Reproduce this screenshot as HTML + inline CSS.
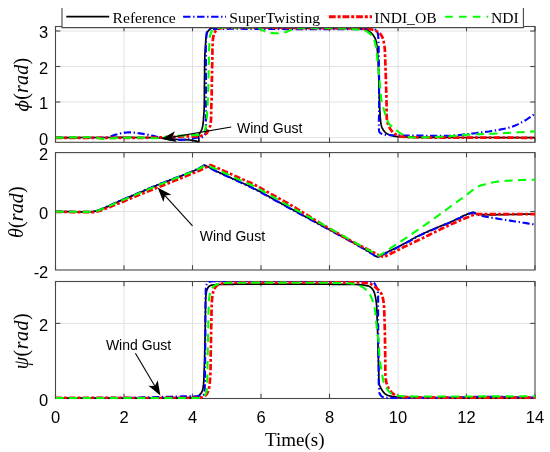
<!DOCTYPE html>
<html><head><meta charset="utf-8"><title>plot</title><style>
html,body{margin:0;padding:0;background:#fff;}
svg{display:block;}
.tk{font-family:"Liberation Sans",Arial,sans-serif;font-size:16.5px;fill:#000;}
.an{font-family:"Liberation Sans",Arial,sans-serif;font-size:14px;fill:#000;}
.lg{font-family:"Liberation Serif","Times New Roman",serif;font-size:15.6px;fill:#000;}
.xl{font-family:"Liberation Serif","Times New Roman",serif;font-size:19px;fill:#000;}
.yl{font-family:"Liberation Serif","Times New Roman",serif;font-size:20px;fill:#000;}
.yl .gd{font-family:"DejaVu Serif",serif;font-style:italic;font-size:17px;}
.yl .gi{font-style:italic;}
.yl .it{font-style:italic;}
.yl .up{font-style:normal;}
</style></head><body>
<svg width="550" height="452" viewBox="0 0 550 452">
<defs>
<clipPath id="c1"><rect x="55.5" y="25.9" width="479.5" height="116.8"/></clipPath>
<clipPath id="c2"><rect x="55.5" y="152.0" width="479.5" height="118.4"/></clipPath>
<clipPath id="c3"><rect x="55.5" y="280.9" width="479.5" height="118.0"/></clipPath>
</defs>
<rect width="550" height="452" fill="#fff"/>
<line x1="124.0" y1="26.5" x2="124.0" y2="142.3" stroke="#e2e2e2" stroke-width="1"/>
<line x1="192.5" y1="26.5" x2="192.5" y2="142.3" stroke="#e2e2e2" stroke-width="1"/>
<line x1="261.0" y1="26.5" x2="261.0" y2="142.3" stroke="#e2e2e2" stroke-width="1"/>
<line x1="329.5" y1="26.5" x2="329.5" y2="142.3" stroke="#e2e2e2" stroke-width="1"/>
<line x1="398.0" y1="26.5" x2="398.0" y2="142.3" stroke="#e2e2e2" stroke-width="1"/>
<line x1="466.5" y1="26.5" x2="466.5" y2="142.3" stroke="#e2e2e2" stroke-width="1"/>
<line x1="55.5" y1="137.6" x2="535.0" y2="137.6" stroke="#e2e2e2" stroke-width="1"/>
<line x1="55.5" y1="102.0" x2="535.0" y2="102.0" stroke="#e2e2e2" stroke-width="1"/>
<line x1="55.5" y1="66.5" x2="535.0" y2="66.5" stroke="#e2e2e2" stroke-width="1"/>
<line x1="55.5" y1="31.0" x2="535.0" y2="31.0" stroke="#e2e2e2" stroke-width="1"/>

<line x1="124.0" y1="152.6" x2="124.0" y2="270.0" stroke="#e2e2e2" stroke-width="1"/>
<line x1="192.5" y1="152.6" x2="192.5" y2="270.0" stroke="#e2e2e2" stroke-width="1"/>
<line x1="261.0" y1="152.6" x2="261.0" y2="270.0" stroke="#e2e2e2" stroke-width="1"/>
<line x1="329.5" y1="152.6" x2="329.5" y2="270.0" stroke="#e2e2e2" stroke-width="1"/>
<line x1="398.0" y1="152.6" x2="398.0" y2="270.0" stroke="#e2e2e2" stroke-width="1"/>
<line x1="466.5" y1="152.6" x2="466.5" y2="270.0" stroke="#e2e2e2" stroke-width="1"/>
<line x1="55.5" y1="211.5" x2="535.0" y2="211.5" stroke="#e2e2e2" stroke-width="1"/>

<line x1="124.0" y1="281.5" x2="124.0" y2="398.5" stroke="#e2e2e2" stroke-width="1"/>
<line x1="192.5" y1="281.5" x2="192.5" y2="398.5" stroke="#e2e2e2" stroke-width="1"/>
<line x1="261.0" y1="281.5" x2="261.0" y2="398.5" stroke="#e2e2e2" stroke-width="1"/>
<line x1="329.5" y1="281.5" x2="329.5" y2="398.5" stroke="#e2e2e2" stroke-width="1"/>
<line x1="398.0" y1="281.5" x2="398.0" y2="398.5" stroke="#e2e2e2" stroke-width="1"/>
<line x1="466.5" y1="281.5" x2="466.5" y2="398.5" stroke="#e2e2e2" stroke-width="1"/>
<line x1="55.5" y1="323.4" x2="535.0" y2="323.4" stroke="#e2e2e2" stroke-width="1"/>

<rect x="55.5" y="26.5" width="479.5" height="115.8" fill="none" stroke="#484848" stroke-width="1.1"/>
<line x1="55.5" y1="142.3" x2="55.5" y2="137.5" stroke="#484848" stroke-width="1.1"/>
<line x1="55.5" y1="26.5" x2="55.5" y2="31.3" stroke="#484848" stroke-width="1.1"/>
<line x1="124.0" y1="142.3" x2="124.0" y2="137.5" stroke="#484848" stroke-width="1.1"/>
<line x1="124.0" y1="26.5" x2="124.0" y2="31.3" stroke="#484848" stroke-width="1.1"/>
<line x1="192.5" y1="142.3" x2="192.5" y2="137.5" stroke="#484848" stroke-width="1.1"/>
<line x1="192.5" y1="26.5" x2="192.5" y2="31.3" stroke="#484848" stroke-width="1.1"/>
<line x1="261.0" y1="142.3" x2="261.0" y2="137.5" stroke="#484848" stroke-width="1.1"/>
<line x1="261.0" y1="26.5" x2="261.0" y2="31.3" stroke="#484848" stroke-width="1.1"/>
<line x1="329.5" y1="142.3" x2="329.5" y2="137.5" stroke="#484848" stroke-width="1.1"/>
<line x1="329.5" y1="26.5" x2="329.5" y2="31.3" stroke="#484848" stroke-width="1.1"/>
<line x1="398.0" y1="142.3" x2="398.0" y2="137.5" stroke="#484848" stroke-width="1.1"/>
<line x1="398.0" y1="26.5" x2="398.0" y2="31.3" stroke="#484848" stroke-width="1.1"/>
<line x1="466.5" y1="142.3" x2="466.5" y2="137.5" stroke="#484848" stroke-width="1.1"/>
<line x1="466.5" y1="26.5" x2="466.5" y2="31.3" stroke="#484848" stroke-width="1.1"/>
<line x1="535.0" y1="142.3" x2="535.0" y2="137.5" stroke="#484848" stroke-width="1.1"/>
<line x1="535.0" y1="26.5" x2="535.0" y2="31.3" stroke="#484848" stroke-width="1.1"/>
<line x1="55.5" y1="137.6" x2="60.3" y2="137.6" stroke="#484848" stroke-width="1.1"/>
<line x1="535.0" y1="137.6" x2="530.2" y2="137.6" stroke="#484848" stroke-width="1.1"/>
<text x="48.3" y="144.9" class="tk" text-anchor="end">0</text>
<line x1="55.5" y1="102.0" x2="60.3" y2="102.0" stroke="#484848" stroke-width="1.1"/>
<line x1="535.0" y1="102.0" x2="530.2" y2="102.0" stroke="#484848" stroke-width="1.1"/>
<text x="48.3" y="109.3" class="tk" text-anchor="end">1</text>
<line x1="55.5" y1="66.5" x2="60.3" y2="66.5" stroke="#484848" stroke-width="1.1"/>
<line x1="535.0" y1="66.5" x2="530.2" y2="66.5" stroke="#484848" stroke-width="1.1"/>
<text x="48.3" y="73.8" class="tk" text-anchor="end">2</text>
<line x1="55.5" y1="31.0" x2="60.3" y2="31.0" stroke="#484848" stroke-width="1.1"/>
<line x1="535.0" y1="31.0" x2="530.2" y2="31.0" stroke="#484848" stroke-width="1.1"/>
<text x="48.3" y="38.2" class="tk" text-anchor="end">3</text>

<rect x="55.5" y="152.6" width="479.5" height="117.4" fill="none" stroke="#484848" stroke-width="1.1"/>
<line x1="55.5" y1="270.0" x2="55.5" y2="265.2" stroke="#484848" stroke-width="1.1"/>
<line x1="55.5" y1="152.6" x2="55.5" y2="157.4" stroke="#484848" stroke-width="1.1"/>
<line x1="124.0" y1="270.0" x2="124.0" y2="265.2" stroke="#484848" stroke-width="1.1"/>
<line x1="124.0" y1="152.6" x2="124.0" y2="157.4" stroke="#484848" stroke-width="1.1"/>
<line x1="192.5" y1="270.0" x2="192.5" y2="265.2" stroke="#484848" stroke-width="1.1"/>
<line x1="192.5" y1="152.6" x2="192.5" y2="157.4" stroke="#484848" stroke-width="1.1"/>
<line x1="261.0" y1="270.0" x2="261.0" y2="265.2" stroke="#484848" stroke-width="1.1"/>
<line x1="261.0" y1="152.6" x2="261.0" y2="157.4" stroke="#484848" stroke-width="1.1"/>
<line x1="329.5" y1="270.0" x2="329.5" y2="265.2" stroke="#484848" stroke-width="1.1"/>
<line x1="329.5" y1="152.6" x2="329.5" y2="157.4" stroke="#484848" stroke-width="1.1"/>
<line x1="398.0" y1="270.0" x2="398.0" y2="265.2" stroke="#484848" stroke-width="1.1"/>
<line x1="398.0" y1="152.6" x2="398.0" y2="157.4" stroke="#484848" stroke-width="1.1"/>
<line x1="466.5" y1="270.0" x2="466.5" y2="265.2" stroke="#484848" stroke-width="1.1"/>
<line x1="466.5" y1="152.6" x2="466.5" y2="157.4" stroke="#484848" stroke-width="1.1"/>
<line x1="535.0" y1="270.0" x2="535.0" y2="265.2" stroke="#484848" stroke-width="1.1"/>
<line x1="535.0" y1="152.6" x2="535.0" y2="157.4" stroke="#484848" stroke-width="1.1"/>
<text x="48.3" y="277.5" class="tk" text-anchor="end">-2</text>
<line x1="55.5" y1="211.5" x2="60.3" y2="211.5" stroke="#484848" stroke-width="1.1"/>
<line x1="535.0" y1="211.5" x2="530.2" y2="211.5" stroke="#484848" stroke-width="1.1"/>
<text x="48.3" y="218.8" class="tk" text-anchor="end">0</text>
<text x="48.3" y="160.1" class="tk" text-anchor="end">2</text>

<rect x="55.5" y="281.5" width="479.5" height="117.0" fill="none" stroke="#484848" stroke-width="1.1"/>
<line x1="55.5" y1="398.5" x2="55.5" y2="393.7" stroke="#484848" stroke-width="1.1"/>
<line x1="55.5" y1="281.5" x2="55.5" y2="286.3" stroke="#484848" stroke-width="1.1"/>
<line x1="124.0" y1="398.5" x2="124.0" y2="393.7" stroke="#484848" stroke-width="1.1"/>
<line x1="124.0" y1="281.5" x2="124.0" y2="286.3" stroke="#484848" stroke-width="1.1"/>
<line x1="192.5" y1="398.5" x2="192.5" y2="393.7" stroke="#484848" stroke-width="1.1"/>
<line x1="192.5" y1="281.5" x2="192.5" y2="286.3" stroke="#484848" stroke-width="1.1"/>
<line x1="261.0" y1="398.5" x2="261.0" y2="393.7" stroke="#484848" stroke-width="1.1"/>
<line x1="261.0" y1="281.5" x2="261.0" y2="286.3" stroke="#484848" stroke-width="1.1"/>
<line x1="329.5" y1="398.5" x2="329.5" y2="393.7" stroke="#484848" stroke-width="1.1"/>
<line x1="329.5" y1="281.5" x2="329.5" y2="286.3" stroke="#484848" stroke-width="1.1"/>
<line x1="398.0" y1="398.5" x2="398.0" y2="393.7" stroke="#484848" stroke-width="1.1"/>
<line x1="398.0" y1="281.5" x2="398.0" y2="286.3" stroke="#484848" stroke-width="1.1"/>
<line x1="466.5" y1="398.5" x2="466.5" y2="393.7" stroke="#484848" stroke-width="1.1"/>
<line x1="466.5" y1="281.5" x2="466.5" y2="286.3" stroke="#484848" stroke-width="1.1"/>
<line x1="535.0" y1="398.5" x2="535.0" y2="393.7" stroke="#484848" stroke-width="1.1"/>
<line x1="535.0" y1="281.5" x2="535.0" y2="286.3" stroke="#484848" stroke-width="1.1"/>
<text x="48.3" y="405.8" class="tk" text-anchor="end">0</text>
<line x1="55.5" y1="323.4" x2="60.3" y2="323.4" stroke="#484848" stroke-width="1.1"/>
<line x1="535.0" y1="323.4" x2="530.2" y2="323.4" stroke="#484848" stroke-width="1.1"/>
<text x="48.3" y="330.7" class="tk" text-anchor="end">2</text>

<path d="M55.5 137.6 L57.0 137.6 L58.5 137.6 L60.0 137.6 L61.6 137.6 L63.1 137.6 L64.7 137.6 L66.3 137.6 L67.9 137.6 L69.5 137.6 L71.1 137.6 L72.7 137.6 L74.4 137.6 L76.0 137.6 L77.7 137.6 L79.4 137.6 L81.0 137.5 L82.7 137.5 L84.4 137.5 L86.1 137.5 L87.8 137.5 L89.4 137.5 L91.1 137.5 L92.8 137.5 L94.5 137.5 L96.2 137.5 L97.9 137.5 L99.6 137.5 L101.2 137.5 L102.9 137.5 L104.5 137.5 L106.2 137.5 L107.8 137.5 L109.5 137.5 L111.1 137.5 L112.7 137.5 L114.3 137.5 L115.9 137.4 L117.4 137.4 L119.0 137.4 L120.5 137.4 L122.0 137.4 L123.5 137.4 L125.0 137.4 L126.5 137.4 L127.9 137.4 L129.3 137.4 L130.7 137.4 L132.1 137.4 L133.4 137.5 L134.8 137.5 L136.0 137.5 L137.3 137.5 L138.6 137.5 L139.8 137.5 L140.9 137.5 L142.1 137.5 L143.2 137.5 L144.3 137.5 L145.3 137.5 L146.3 137.5 L147.3 137.6 L148.2 137.6 L149.1 137.6 L150.0 137.6 L151.9 137.6 L153.5 137.7 L155.1 137.7 L156.5 137.8 L157.8 137.8 L159.1 137.8 L160.3 137.9 L161.4 138.0 L162.6 138.0 L163.8 138.1 L165.0 138.2 L166.5 138.3 L167.9 138.5 L169.2 138.6 L170.6 138.8 L171.9 139.0 L173.3 139.1 L174.6 139.3 L176.0 139.4 L177.3 139.5 L178.7 139.5 L180.1 139.6 L181.5 139.6 L182.9 139.6 L184.2 139.6 L185.5 139.7 L186.8 139.7 L188.0 139.8 L189.6 140.0 L191.0 140.1 L192.5 140.3 L193.8 140.6 L195.0 140.8 L196.3 141.1 L197.5 141.5 L198.7 141.9" fill="none" stroke="#000" stroke-width="1.7" clip-path="url(#c1)"/>
<path d="M198.9 141.9 L198.9 140.4 L198.8 138.8 L198.7 137.2 L198.7 135.8 L198.9 134.7 L199.4 133.7 L200.1 132.8 L200.6 131.9 L201.1 130.9 L201.6 129.8 L202.0 128.7 L202.3 127.6 L202.6 126.5 L202.8 125.4 L203.0 124.0 L203.1 122.9 L203.3 121.8 L203.4 120.5 L203.5 119.2 L203.6 117.8 L203.7 116.3 L203.8 114.8 L203.9 113.3 L204.0 111.6 L204.1 110.0 L204.2 108.8 L204.2 107.6 L204.2 106.3 L204.3 104.9 L204.3 103.5 L204.3 102.1 L204.3 100.7 L204.4 99.2 L204.4 97.7 L204.4 96.2 L204.4 94.7 L204.4 93.1 L204.4 91.6 L204.4 90.1 L204.4 88.6 L204.4 87.1 L204.4 85.6 L204.5 84.1 L204.5 82.7 L204.5 81.3 L204.5 80.0 L204.5 78.4 L204.5 76.9 L204.6 75.3 L204.6 73.7 L204.6 72.2 L204.6 70.7 L204.6 69.2 L204.6 67.7 L204.6 66.2 L204.7 64.8 L204.7 63.4 L204.7 62.0 L204.7 60.6 L204.8 59.3 L204.8 58.0 L204.9 56.4 L204.9 54.8 L205.0 53.4 L205.1 51.9 L205.1 50.5 L205.2 49.1 L205.3 47.7 L205.4 46.4 L205.5 45.0 L205.6 43.5 L205.7 41.9 L205.8 40.4 L205.9 38.9 L206.1 37.4 L206.3 36.2 L206.5 35.0 L206.9 33.6 L207.4 32.4 L208.0 31.3 L208.7 30.3 L209.6 29.5 L210.5 28.8 L211.4 28.3 L212.5 28.0 L214.0 27.8 L214.7 27.7 L215.5 27.6 L216.4 27.6 L217.4 27.5 L218.6 27.5 L219.8 27.4 L221.0 27.4 L222.4 27.3 L223.8 27.3 L225.3 27.3 L226.9 27.3 L228.4 27.3 L230.1 27.3 L231.8 27.3 L233.5 27.3 L235.2 27.3 L237.0 27.3 L238.7 27.3 L240.5 27.3 L242.3 27.3 L244.0 27.3 L245.8 27.4 L247.5 27.4 L249.2 27.4 L250.9 27.4 L252.6 27.4 L254.2 27.5 L255.7 27.5 L257.2 27.5 L258.6 27.5 L260.0 27.5 L261.6 27.5 L263.1 27.5 L264.5 27.5 L265.9 27.6 L267.3 27.6 L268.7 27.6 L270.0 27.6 L271.4 27.6 L272.7 27.7 L274.0 27.7 L275.3 27.7 L276.7 27.8 L278.0 27.8 L279.4 27.8 L280.8 27.8 L282.2 27.9 L283.7 27.9 L285.2 27.9 L286.7 28.0 L288.3 28.0 L290.0 28.0 L291.2 28.0 L292.5 28.0 L293.8 28.0 L295.2 28.1 L296.7 28.1 L298.1 28.1 L299.6 28.1 L301.2 28.1 L302.8 28.1 L304.4 28.1 L306.0 28.1 L307.7 28.1 L309.4 28.1 L311.1 28.1 L312.8 28.1 L314.6 28.1 L316.3 28.1 L318.1 28.1 L319.8 28.2 L321.6 28.2 L323.3 28.2 L325.1 28.2 L326.8 28.2 L328.5 28.2 L330.2 28.2 L331.9 28.2 L333.5 28.2 L335.2 28.2 L336.8 28.2 L338.3 28.2 L339.9 28.2 L341.3 28.3 L342.8 28.3 L344.2 28.3 L345.5 28.3 L346.8 28.3 L348.1 28.3 L349.3 28.4 L350.4 28.4 L351.5 28.4 L352.5 28.4 L353.4 28.4 L354.2 28.5 L355.0 28.5 L356.9 28.6 L358.4 28.6 L359.6 28.7 L360.8 28.8 L362.0 29.0 L363.3 29.2 L364.6 29.4 L365.9 29.7 L367.1 30.2 L368.1 30.8 L369.2 31.4 L370.2 32.2 L371.1 33.0 L372.0 33.8 L372.9 34.8 L373.6 35.8 L374.3 36.9 L374.9 38.0 L375.5 39.3 L375.9 40.8 L376.3 42.2 L376.6 43.7 L376.8 45.1 L377.0 46.5 L377.2 47.9 L377.3 49.4 L377.4 50.6 L377.5 51.9 L377.6 53.2 L377.7 54.5 L377.8 56.0 L377.9 57.2 L377.9 58.4 L378.0 59.7 L378.1 61.1 L378.2 62.5 L378.2 64.0 L378.3 65.5 L378.4 67.0 L378.4 68.5 L378.5 70.0 L378.6 71.3 L378.6 72.7 L378.6 74.1 L378.7 75.5 L378.7 76.9 L378.8 78.3 L378.8 79.8 L378.8 81.2 L378.9 82.7 L378.9 84.2 L379.0 85.7 L379.0 87.1 L379.1 88.6 L379.1 90.0 L379.1 91.4 L379.2 92.9 L379.2 94.4 L379.3 95.9 L379.3 97.4 L379.4 98.9 L379.4 100.4 L379.5 101.9 L379.5 103.4 L379.6 104.8 L379.6 106.2 L379.7 107.5 L379.7 108.8 L379.8 110.0 L379.9 111.6 L380.0 113.2 L380.1 114.6 L380.1 116.0 L380.2 117.4 L380.4 118.7 L380.5 120.0 L380.7 121.4 L380.8 122.8 L381.0 124.1 L381.3 125.4 L381.6 126.5 L382.1 127.8 L382.7 128.9 L383.3 130.0 L384.0 130.9 L384.7 131.8 L385.5 132.6 L386.3 133.2 L387.1 133.8 L388.0 134.3 L389.2 134.8 L390.6 135.2 L392.0 135.6 L393.3 136.0 L394.7 136.3 L396.0 136.5 L397.2 136.6 L398.4 136.7 L400.0 136.8 L400.9 136.8 L401.9 136.9 L403.0 136.9 L404.1 137.0 L405.3 137.0 L406.6 137.0 L408.0 137.1 L409.5 137.1 L411.0 137.1 L412.6 137.2 L414.3 137.2 L416.1 137.2 L418.0 137.3 L420.0 137.3 L420.9 137.3 L421.8 137.3 L422.8 137.3 L423.7 137.3 L424.7 137.4 L425.8 137.4 L426.8 137.4 L427.9 137.4 L429.0 137.4 L430.2 137.4 L431.3 137.4 L432.5 137.4 L433.7 137.4 L435.0 137.4 L436.2 137.4 L437.5 137.4 L438.8 137.5 L440.2 137.5 L441.5 137.5 L442.9 137.5 L444.3 137.5 L445.7 137.5 L447.1 137.5 L448.5 137.5 L450.0 137.5 L451.5 137.5 L453.0 137.5 L454.5 137.5 L456.0 137.5 L457.5 137.5 L459.1 137.5 L460.6 137.5 L462.2 137.5 L463.8 137.5 L465.4 137.5 L467.0 137.5 L468.6 137.5 L470.2 137.5 L471.8 137.5 L473.5 137.5 L475.1 137.5 L476.8 137.5 L478.4 137.5 L480.1 137.5 L481.8 137.5 L483.4 137.5 L485.1 137.5 L486.8 137.5 L488.5 137.5 L490.2 137.5 L491.8 137.5 L493.5 137.5 L495.2 137.5 L496.9 137.5 L498.6 137.6 L500.3 137.6 L502.0 137.6 L503.6 137.6 L505.3 137.6 L507.0 137.6 L508.6 137.6 L510.3 137.6 L511.9 137.6 L513.6 137.6 L515.2 137.6 L516.9 137.6 L518.5 137.6 L520.1 137.6 L521.7 137.6 L523.3 137.6 L524.9 137.6 L526.4 137.6 L528.0 137.6 L529.6 137.6 L531.1 137.6 L532.6 137.6 L534.1 137.6 L535.6 137.6" fill="none" stroke="#000" stroke-width="1.7" clip-path="url(#c1)"/>
<path d="M55.5 137.6 L57.0 137.6 L58.5 137.6 L60.0 137.6 L61.6 137.6 L63.3 137.6 L64.9 137.7 L66.6 137.7 L68.2 137.7 L69.9 137.7 L71.6 137.7 L73.3 137.8 L75.0 137.8 L76.7 137.8 L78.4 137.8 L80.1 137.9 L81.8 137.9 L83.5 137.9 L85.1 137.9 L86.7 137.9 L88.3 137.9 L89.8 137.9 L91.3 137.9 L92.8 137.9 L94.2 137.9 L95.6 137.9 L96.9 137.9 L98.1 137.9 L99.3 137.9 L100.5 137.9 L101.5 137.8 L102.5 137.8 L103.4 137.7 L104.3 137.7 L105.0 137.6 L106.6 137.4 L107.8 137.2 L108.8 136.9 L110.0 136.6 L111.2 136.2 L112.5 135.8 L113.8 135.3 L115.2 134.8 L116.6 134.4 L118.0 134.0 L119.4 133.7 L120.8 133.4 L122.3 133.1 L123.8 132.9 L125.3 132.6 L126.8 132.5 L128.2 132.4 L129.7 132.4 L131.1 132.4 L132.5 132.5 L134.0 132.6 L135.4 132.8 L137.0 133.0 L138.3 133.2 L139.8 133.4 L141.2 133.6 L142.7 133.8 L144.2 134.1 L145.7 134.4 L147.2 134.7 L148.6 134.9 L150.0 135.2 L151.5 135.5 L153.0 135.8 L154.4 136.1 L155.8 136.5 L157.2 136.8 L158.6 137.1 L160.0 137.4 L161.4 137.7 L162.8 138.0 L164.2 138.3 L165.6 138.7 L167.1 138.9 L168.5 139.2 L170.0 139.4 L171.3 139.5 L172.6 139.7 L174.0 139.8 L175.4 139.8 L176.8 139.9 L178.1 139.9 L179.5 139.9 L180.8 139.9 L182.0 139.9 L183.4 139.8 L184.8 139.7 L186.1 139.6 L187.4 139.4 L188.7 139.2 L190.0 139.0 L191.5 138.7 L192.9 138.4 L194.4 138.1 L195.7 137.9 L197.0 137.7 L198.4 137.7 L199.8 137.7 L201.0 137.6 L202.0 137.3 L203.0 136.9 L203.8 136.3 L204.5 135.5 L205.0 134.6 L205.4 133.5 L205.6 132.3 L205.7 131.1 L205.8 129.6 L205.8 128.0 L205.8 127.0 L205.9 125.8 L205.9 124.6 L205.9 123.4 L205.9 122.0 L205.9 120.6 L205.9 119.2 L205.9 117.7 L205.9 116.2 L205.9 114.7 L205.9 113.1 L205.9 111.6 L205.9 110.0 L205.9 108.7 L205.9 107.4 L205.9 106.1 L205.9 104.7 L205.9 103.3 L205.9 101.8 L205.9 100.4 L206.0 98.9 L206.0 97.4 L206.0 95.9 L206.0 94.4 L206.0 92.9 L206.0 91.4 L206.0 89.9 L206.0 88.5 L206.0 87.0 L206.0 85.5 L206.0 84.1 L206.0 82.7 L206.0 81.3 L206.0 80.0 L206.0 78.4 L206.0 76.9 L206.0 75.3 L206.0 73.7 L206.0 72.2 L206.0 70.7 L206.0 69.2 L205.9 67.7 L205.9 66.2 L205.9 64.8 L205.9 63.4 L205.9 62.0 L205.9 60.6 L205.9 59.3 L205.9 58.0 L205.9 56.4 L205.9 54.8 L205.9 53.3 L205.9 51.9 L205.9 50.4 L205.8 49.0 L205.9 47.7 L205.9 46.3 L205.9 45.0 L205.9 43.6 L206.0 42.2 L206.0 40.9 L206.1 39.6 L206.2 38.3 L206.3 37.1 L206.4 36.0 L206.5 34.7 L206.6 33.5 L206.8 32.4 L207.2 31.5 L208.2 30.4 L209.5 29.6 L210.4 29.3 L211.3 29.2 L212.4 29.2 L214.0 29.1 L214.6 29.1 L215.2 29.0 L215.9 29.0 L216.7 29.0 L217.6 29.0 L218.4 29.0 L219.4 28.9 L220.4 28.9 L221.5 28.9 L222.6 28.9 L223.7 28.9 L224.9 28.9 L226.2 28.9 L227.5 28.9 L228.8 28.8 L230.2 28.8 L231.6 28.8 L233.0 28.8 L234.5 28.8 L236.0 28.8 L237.6 28.8 L239.1 28.8 L240.7 28.8 L242.4 28.8 L244.0 28.9 L245.7 28.9 L247.4 28.9 L249.1 28.9 L250.8 28.9 L252.5 28.9 L254.3 28.9 L256.1 28.9 L257.8 28.9 L259.6 28.9 L261.4 28.9 L263.2 28.9 L265.0 29.0 L266.8 29.0 L268.6 29.0 L270.4 29.0 L272.2 29.0 L273.9 29.0 L275.7 29.0 L277.5 29.0 L279.2 29.0 L280.9 29.0 L282.7 29.0 L284.4 29.1 L286.0 29.1 L287.7 29.1 L289.3 29.1 L291.0 29.1 L292.5 29.1 L294.1 29.1 L295.6 29.1 L297.1 29.1 L298.6 29.1 L300.0 29.1 L301.6 29.1 L303.2 29.1 L304.8 29.1 L306.5 29.1 L308.2 29.1 L309.9 29.1 L311.6 29.1 L313.4 29.1 L315.1 29.1 L316.9 29.1 L318.7 29.1 L320.5 29.1 L322.3 29.1 L324.1 29.1 L325.9 29.1 L327.6 29.1 L329.4 29.1 L331.2 29.1 L333.0 29.1 L334.8 29.1 L336.5 29.1 L338.3 29.1 L340.0 29.1 L341.7 29.1 L343.3 29.1 L345.0 29.1 L346.6 29.1 L348.2 29.1 L349.8 29.1 L351.3 29.1 L352.8 29.1 L354.3 29.1 L355.7 29.1 L357.1 29.1 L358.4 29.1 L359.7 29.1 L360.9 29.1 L362.1 29.1 L363.2 29.1 L364.3 29.1 L365.3 29.1 L366.2 29.1 L367.1 29.1 L368.0 29.1 L368.7 29.1 L369.4 29.1 L370.0 29.1 L371.7 29.1 L372.9 29.1 L374.0 29.2 L375.4 29.7 L376.6 30.5 L377.2 31.6 L377.7 33.0 L378.0 34.5 L378.2 35.7 L378.3 37.1 L378.4 38.5 L378.4 40.0 L378.5 41.6 L378.5 42.8 L378.6 44.0 L378.6 45.3 L378.6 46.6 L378.7 48.0 L378.7 49.5 L378.7 50.9 L378.7 52.4 L378.8 53.9 L378.8 55.5 L378.8 57.0 L378.8 58.3 L378.8 59.6 L378.9 61.0 L378.9 62.4 L378.9 63.7 L378.9 65.2 L379.0 66.6 L379.0 68.0 L379.0 69.5 L379.0 70.9 L379.0 72.4 L379.0 73.9 L379.1 75.4 L379.1 76.9 L379.1 78.5 L379.1 80.0 L379.1 81.3 L379.1 82.7 L379.1 84.1 L379.1 85.5 L379.1 87.0 L379.1 88.4 L379.1 89.9 L379.1 91.4 L379.1 92.9 L379.1 94.3 L379.1 95.8 L379.1 97.3 L379.1 98.8 L379.1 100.2 L379.1 101.7 L379.1 103.1 L379.1 104.6 L379.1 106.0 L379.1 107.3 L379.1 108.7 L379.1 110.0 L379.1 111.6 L379.1 113.2 L379.0 114.8 L379.0 116.5 L378.9 118.1 L378.9 119.8 L378.8 121.4 L378.8 123.0 L378.8 124.4 L378.8 125.9 L378.8 127.2 L378.8 128.3 L378.9 129.4 L379.0 130.3 L379.1 131.0 L379.4 132.1 L380.0 132.8 L380.9 133.4 L382.1 134.0 L383.5 134.4 L384.6 134.6 L385.7 134.8 L387.0 134.9 L388.4 135.0 L390.0 135.1 L391.0 135.2 L392.0 135.2 L393.1 135.2 L394.3 135.3 L395.6 135.3 L396.9 135.4 L398.3 135.4 L399.8 135.4 L401.3 135.4 L402.8 135.5 L404.3 135.5 L405.9 135.5 L407.5 135.5 L409.1 135.5 L410.7 135.5 L412.3 135.5 L413.9 135.6 L415.5 135.6 L417.0 135.6 L418.5 135.6 L420.0 135.6 L421.4 135.6 L422.9 135.6 L424.4 135.6 L425.9 135.7 L427.4 135.7 L429.0 135.7 L430.5 135.7 L432.1 135.7 L433.6 135.8 L435.2 135.8 L436.7 135.8 L438.2 135.8 L439.7 135.8 L441.2 135.8 L442.7 135.8 L444.1 135.8 L445.5 135.8 L446.9 135.8 L448.2 135.7 L449.5 135.7 L450.8 135.7 L452.0 135.6 L453.6 135.5 L455.1 135.4 L456.5 135.3 L457.9 135.2 L459.2 135.0 L460.5 134.9 L461.8 134.7 L463.1 134.6 L464.4 134.4 L465.7 134.2 L467.0 134.1 L468.4 134.0 L469.7 133.8 L471.1 133.7 L472.4 133.5 L473.7 133.4 L475.1 133.2 L476.4 133.1 L477.8 132.9 L479.2 132.8 L480.6 132.6 L482.0 132.4 L483.3 132.2 L484.7 132.0 L486.1 131.8 L487.5 131.7 L488.9 131.5 L490.3 131.2 L491.8 131.0 L493.2 130.8 L494.6 130.6 L496.0 130.4 L497.3 130.1 L498.7 129.9 L500.0 129.6 L501.5 129.3 L503.0 129.0 L504.4 128.7 L505.8 128.4 L507.3 128.0 L508.6 127.7 L510.0 127.3 L511.4 126.9 L512.7 126.5 L514.0 126.0 L515.3 125.5 L516.6 124.9 L517.8 124.4 L519.0 123.8 L520.3 123.2 L521.4 122.5 L522.6 121.9 L523.8 121.2 L525.0 120.5 L526.2 119.8 L527.4 119.0 L528.6 118.2 L529.8 117.4 L530.9 116.6 L532.1 115.8 L533.3 114.9 L534.4 114.1 L535.6 113.3" fill="none" stroke="#0000ff" stroke-width="2.1" stroke-dasharray="7.2 2.6 1.4 2.6" clip-path="url(#c1)"/>
<path d="M55.5 137.8 L57.0 137.8 L58.5 137.8 L60.0 137.8 L61.5 137.8 L63.1 137.8 L64.6 137.8 L66.2 137.8 L67.8 137.8 L69.4 137.8 L71.0 137.8 L72.6 137.8 L74.2 137.8 L75.8 137.8 L77.5 137.8 L79.1 137.8 L80.8 137.8 L82.4 137.8 L84.1 137.8 L85.7 137.8 L87.4 137.8 L89.0 137.8 L90.7 137.8 L92.4 137.8 L94.0 137.8 L95.7 137.9 L97.3 137.9 L99.0 137.9 L100.6 137.9 L102.2 137.9 L103.9 137.9 L105.5 137.9 L107.1 137.9 L108.7 137.9 L110.3 137.9 L111.9 137.9 L113.5 137.9 L115.1 137.9 L116.6 137.9 L118.2 137.9 L119.7 137.9 L121.2 137.9 L122.7 137.9 L124.2 137.9 L125.6 137.9 L127.1 137.9 L128.5 137.9 L129.9 137.9 L131.3 137.9 L132.7 137.9 L134.0 137.9 L135.3 137.8 L136.6 137.8 L137.9 137.8 L139.1 137.8 L140.3 137.8 L141.5 137.8 L142.7 137.8 L143.8 137.8 L144.9 137.8 L146.0 137.8 L147.1 137.7 L148.1 137.7 L149.1 137.7 L150.0 137.7 L151.9 137.7 L153.6 137.6 L155.3 137.6 L156.8 137.5 L158.3 137.5 L159.7 137.4 L161.0 137.4 L162.3 137.3 L163.5 137.3 L164.8 137.2 L166.1 137.2 L167.3 137.1 L168.6 137.1 L170.0 137.0 L171.4 136.9 L172.9 136.9 L174.3 136.8 L175.7 136.8 L177.2 136.7 L178.6 136.7 L180.0 136.6 L181.4 136.5 L182.8 136.5 L184.1 136.4 L185.4 136.4 L186.7 136.3 L188.0 136.3 L189.5 136.3 L191.0 136.3 L192.5 136.3 L193.9 136.3 L195.4 136.3 L196.7 136.3 L197.9 136.3 L199.0 136.2 L200.0 136.1 L201.2 135.8 L202.1 135.4 L203.0 135.0 L204.2 134.5 L205.5 134.0 L206.6 133.3 L207.4 132.2 L207.9 130.9 L208.5 129.6 L209.0 128.7 L209.5 127.7 L209.9 126.7 L210.3 125.4 L210.5 124.4 L210.7 123.3 L210.8 122.1 L210.9 120.8 L211.0 119.4 L211.1 117.9 L211.1 116.3 L211.2 114.7 L211.2 113.1 L211.2 111.4 L211.3 109.8 L211.3 108.2 L211.3 106.6 L211.4 105.0 L211.4 103.6 L211.5 102.2 L211.5 100.7 L211.6 99.3 L211.6 97.8 L211.6 96.3 L211.7 94.8 L211.7 93.3 L211.7 91.8 L211.7 90.3 L211.8 88.8 L211.8 87.3 L211.8 85.8 L211.8 84.3 L211.8 82.9 L211.9 81.4 L211.9 80.0 L211.9 78.5 L212.0 77.0 L212.0 75.4 L212.0 73.9 L212.0 72.3 L212.1 70.8 L212.1 69.3 L212.1 67.8 L212.1 66.3 L212.2 64.9 L212.2 63.4 L212.2 62.0 L212.2 60.6 L212.3 59.3 L212.3 58.0 L212.3 56.4 L212.4 54.8 L212.4 53.3 L212.4 51.9 L212.4 50.4 L212.4 49.0 L212.5 47.7 L212.5 46.3 L212.6 45.0 L212.7 43.6 L212.7 42.2 L212.8 40.9 L212.9 39.6 L213.1 38.3 L213.2 37.1 L213.5 36.0 L213.9 34.7 L214.3 33.5 L214.8 32.4 L215.4 31.4 L216.0 30.5 L216.9 29.7 L217.9 29.1 L219.0 28.6 L220.0 28.3 L221.1 28.1 L222.4 27.9 L224.0 27.8 L224.8 27.7 L225.8 27.7 L226.8 27.6 L227.9 27.6 L229.1 27.6 L230.4 27.5 L231.8 27.5 L233.2 27.5 L234.7 27.5 L236.2 27.4 L237.7 27.4 L239.3 27.4 L241.0 27.4 L242.6 27.4 L244.3 27.4 L245.9 27.4 L247.6 27.4 L249.2 27.4 L250.9 27.5 L252.5 27.5 L254.1 27.5 L255.6 27.5 L257.1 27.5 L258.6 27.5 L260.0 27.5 L261.5 27.5 L262.9 27.5 L264.3 27.5 L265.7 27.6 L267.1 27.6 L268.4 27.6 L269.7 27.6 L271.1 27.6 L272.4 27.7 L273.7 27.7 L275.1 27.7 L276.4 27.8 L277.8 27.8 L279.2 27.8 L280.6 27.8 L282.1 27.9 L283.5 27.9 L285.1 27.9 L286.7 28.0 L288.3 28.0 L290.0 28.0 L291.2 28.0 L292.5 28.0 L293.8 28.0 L295.2 28.1 L296.6 28.1 L298.1 28.1 L299.6 28.1 L301.1 28.1 L302.7 28.1 L304.3 28.1 L306.0 28.1 L307.7 28.2 L309.4 28.2 L311.1 28.2 L312.8 28.2 L314.6 28.2 L316.4 28.2 L318.1 28.2 L319.9 28.2 L321.7 28.2 L323.5 28.2 L325.3 28.3 L327.1 28.3 L328.8 28.3 L330.6 28.3 L332.3 28.3 L334.1 28.3 L335.8 28.3 L337.5 28.3 L339.1 28.3 L340.7 28.4 L342.3 28.4 L343.9 28.4 L345.4 28.4 L346.8 28.4 L348.3 28.4 L349.6 28.4 L351.0 28.4 L352.2 28.5 L353.4 28.5 L354.6 28.5 L355.7 28.5 L356.7 28.5 L357.6 28.5 L358.5 28.6 L359.3 28.6 L360.0 28.6 L361.6 28.7 L362.9 28.7 L364.0 28.8 L365.0 28.8 L366.0 28.9 L367.2 28.9 L368.3 29.0 L369.4 29.0 L370.6 29.2 L372.0 29.5 L373.5 29.9 L375.0 30.4 L376.3 31.0 L377.4 31.6 L378.4 32.2 L379.4 33.0 L380.2 33.8 L381.0 34.7 L381.6 35.8 L382.2 36.9 L382.7 38.0 L383.2 39.3 L383.5 40.8 L383.8 42.2 L384.1 43.7 L384.3 45.1 L384.5 46.5 L384.7 48.0 L384.8 49.4 L384.9 50.6 L385.0 51.8 L385.0 53.0 L385.0 54.3 L385.1 55.7 L385.1 56.9 L385.2 58.2 L385.2 59.5 L385.3 60.9 L385.3 62.3 L385.4 63.8 L385.4 65.4 L385.5 66.9 L385.5 68.4 L385.6 70.0 L385.6 71.3 L385.7 72.7 L385.7 74.1 L385.8 75.6 L385.8 77.0 L385.9 78.5 L385.9 80.0 L386.0 81.5 L386.0 82.9 L386.0 84.4 L386.1 85.8 L386.1 87.3 L386.2 88.7 L386.2 90.0 L386.2 91.4 L386.3 92.9 L386.3 94.3 L386.4 95.6 L386.4 97.0 L386.4 98.4 L386.5 99.7 L386.5 101.0 L386.5 102.3 L386.6 103.7 L386.6 105.0 L386.6 106.4 L386.6 107.9 L386.6 109.3 L386.6 110.8 L386.6 112.2 L386.6 113.6 L386.6 115.0 L386.6 116.3 L386.7 117.5 L386.8 118.6 L387.0 120.2 L387.3 121.5 L387.6 122.8 L388.0 124.0 L388.4 125.3 L388.9 126.4 L389.4 127.5 L390.1 128.8 L391.0 130.0 L391.8 131.0 L392.8 132.1 L393.9 133.1 L395.0 134.0 L396.2 134.7 L397.4 135.3 L398.7 135.8 L400.0 136.2 L401.2 136.5 L402.5 136.7 L403.7 136.9 L405.0 137.0 L406.1 137.1 L407.1 137.2 L408.3 137.2 L410.0 137.3 L410.5 137.3 L411.1 137.3 L411.7 137.3 L412.4 137.4 L413.1 137.4 L413.8 137.4 L414.6 137.4 L415.4 137.4 L416.3 137.4 L417.2 137.4 L418.2 137.4 L419.1 137.5 L420.2 137.5 L421.2 137.5 L422.3 137.5 L423.5 137.5 L424.6 137.5 L425.8 137.5 L427.1 137.5 L428.3 137.5 L429.6 137.5 L430.9 137.6 L432.3 137.6 L433.7 137.6 L435.1 137.6 L436.5 137.6 L438.0 137.6 L439.4 137.6 L441.0 137.6 L442.5 137.6 L444.0 137.6 L445.6 137.6 L447.2 137.6 L448.8 137.6 L450.4 137.6 L452.1 137.6 L453.8 137.6 L455.4 137.6 L457.1 137.6 L458.9 137.6 L460.6 137.7 L462.3 137.7 L464.1 137.7 L465.8 137.7 L467.6 137.7 L469.4 137.7 L471.2 137.7 L473.0 137.7 L474.8 137.7 L476.6 137.7 L478.4 137.7 L480.2 137.7 L482.0 137.7 L483.9 137.7 L485.7 137.7 L487.5 137.7 L489.4 137.7 L491.2 137.7 L493.0 137.7 L494.8 137.7 L496.6 137.7 L498.5 137.7 L500.3 137.7 L502.1 137.7 L503.9 137.7 L505.7 137.7 L507.4 137.7 L509.2 137.7 L511.0 137.7 L512.7 137.7 L514.5 137.7 L516.2 137.7 L517.9 137.7 L519.6 137.8 L521.3 137.8 L523.0 137.8 L524.6 137.8 L526.2 137.8 L527.8 137.8 L529.4 137.8 L531.0 137.8 L532.6 137.8 L534.1 137.8 L535.6 137.8" fill="none" stroke="#ff0000" stroke-width="2.7" stroke-dasharray="6.4 2.2 2.8 2.2" clip-path="url(#c1)"/>
<path d="M55.5 137.6 L57.0 137.6 L58.5 137.6 L60.0 137.6 L61.6 137.6 L63.2 137.5 L64.8 137.5 L66.4 137.5 L68.0 137.5 L69.7 137.4 L71.3 137.4 L73.0 137.4 L74.6 137.4 L76.2 137.3 L77.8 137.3 L79.4 137.3 L81.0 137.3 L82.5 137.3 L84.0 137.3 L85.5 137.3 L86.9 137.3 L88.2 137.3 L89.5 137.3 L90.8 137.3 L92.0 137.4 L93.1 137.4 L94.1 137.5 L95.1 137.5 L96.0 137.6 L97.8 137.8 L99.2 138.2 L100.5 138.5 L101.7 138.7 L103.0 138.9 L104.4 138.9 L105.7 138.8 L107.1 138.7 L108.5 138.5 L110.0 138.4 L111.2 138.3 L112.4 138.3 L113.7 138.2 L115.0 138.1 L116.3 138.0 L117.7 138.0 L119.1 137.9 L120.5 137.8 L122.0 137.8 L123.3 137.8 L124.6 137.7 L126.0 137.7 L127.4 137.7 L128.9 137.6 L130.4 137.6 L131.8 137.6 L133.3 137.6 L134.7 137.6 L136.1 137.6 L137.5 137.6 L138.8 137.6 L140.0 137.6 L141.6 137.6 L143.1 137.7 L144.6 137.8 L146.0 137.9 L147.4 138.0 L148.7 138.0 L150.0 138.1 L151.3 138.2 L152.5 138.2 L153.6 138.3 L154.7 138.3 L156.0 138.3 L157.2 138.2 L158.4 138.0 L159.6 137.9 L160.9 137.6 L162.2 137.4 L163.6 137.2 L165.0 137.0 L166.2 136.9 L167.5 136.7 L168.9 136.6 L170.2 136.4 L171.7 136.3 L173.1 136.2 L174.5 136.0 L175.9 135.9 L177.3 135.8 L178.7 135.7 L180.0 135.6 L181.4 135.5 L182.8 135.5 L184.2 135.4 L185.6 135.4 L186.9 135.4 L188.2 135.3 L189.5 135.3 L190.8 135.3 L192.0 135.2 L193.5 135.1 L194.9 135.1 L196.4 135.0 L197.7 134.9 L198.9 134.8 L200.0 134.6 L201.2 134.3 L202.1 134.0 L203.0 133.5 L203.7 132.8 L204.3 132.0 L204.8 131.0 L205.2 129.9 L205.5 128.6 L205.7 127.1 L205.9 125.6 L206.1 124.0 L206.3 122.8 L206.4 121.6 L206.5 120.4 L206.7 119.1 L206.8 117.8 L206.9 116.4 L207.0 115.0 L207.1 113.5 L207.2 112.0 L207.3 110.7 L207.4 109.4 L207.4 108.1 L207.5 106.7 L207.6 105.3 L207.7 103.8 L207.7 102.4 L207.8 100.9 L207.9 99.4 L207.9 97.8 L208.0 96.3 L208.0 94.7 L208.1 93.2 L208.1 91.6 L208.2 90.0 L208.2 88.7 L208.3 87.3 L208.3 85.9 L208.4 84.4 L208.4 83.0 L208.4 81.5 L208.5 80.0 L208.5 78.4 L208.5 76.9 L208.6 75.4 L208.6 73.9 L208.6 72.4 L208.7 70.9 L208.7 69.4 L208.7 68.0 L208.8 66.5 L208.8 65.1 L208.8 63.8 L208.8 62.5 L208.9 61.2 L208.9 60.0 L208.9 58.4 L209.0 56.9 L209.0 55.5 L209.0 54.1 L209.0 52.7 L209.0 51.4 L209.1 50.1 L209.1 48.8 L209.2 47.5 L209.2 46.3 L209.3 45.0 L209.4 43.4 L209.5 41.9 L209.6 40.3 L209.8 38.8 L209.9 37.3 L210.1 35.9 L210.4 34.6 L210.7 33.5 L211.2 32.3 L211.7 31.2 L212.3 30.3 L213.0 29.5 L213.9 28.9 L214.9 28.5 L216.0 28.2 L217.0 28.0 L218.0 27.9 L219.1 27.8 L220.4 27.8 L222.0 27.7 L223.0 27.7 L224.1 27.6 L225.3 27.6 L226.7 27.6 L228.2 27.5 L229.7 27.5 L231.4 27.5 L233.1 27.4 L234.8 27.4 L236.6 27.4 L238.4 27.4 L240.3 27.3 L242.1 27.3 L243.8 27.3 L245.5 27.3 L247.2 27.4 L248.8 27.4 L250.3 27.4 L251.7 27.5 L253.0 27.5 L254.2 27.6 L255.2 27.6 L256.0 27.7 L257.6 27.9 L258.8 28.2 L260.0 28.6 L261.1 29.1 L262.2 29.8 L263.4 30.5 L264.7 31.2 L266.0 31.8 L267.3 32.2 L268.7 32.5 L270.1 32.8 L271.6 33.0 L273.1 33.1 L274.6 33.2 L276.0 33.3 L277.3 33.3 L278.7 33.2 L280.0 33.1 L281.3 33.0 L282.6 32.8 L283.8 32.6 L285.0 32.3 L286.3 31.9 L287.5 31.4 L288.7 30.9 L289.9 30.4 L291.0 30.0 L292.3 29.6 L293.6 29.2 L294.8 28.9 L296.0 28.6 L297.2 28.4 L298.3 28.3 L300.0 28.2 L300.7 28.2 L301.5 28.1 L302.5 28.1 L303.6 28.1 L304.7 28.1 L306.0 28.1 L307.3 28.1 L308.7 28.1 L310.2 28.1 L311.8 28.1 L313.4 28.1 L315.1 28.1 L316.8 28.1 L318.5 28.1 L320.3 28.1 L322.1 28.1 L323.9 28.1 L325.7 28.2 L327.5 28.2 L329.3 28.2 L331.1 28.2 L332.9 28.3 L334.7 28.3 L336.4 28.3 L338.1 28.4 L339.7 28.4 L341.2 28.5 L342.7 28.5 L344.2 28.5 L345.5 28.6 L346.8 28.6 L348.0 28.7 L349.0 28.7 L350.0 28.8 L351.9 28.9 L353.5 29.1 L354.9 29.2 L356.3 29.4 L357.5 29.5 L358.8 29.7 L360.0 29.9 L361.4 30.1 L362.7 30.3 L364.0 30.5 L365.2 30.8 L366.4 31.3 L367.5 31.9 L368.5 32.6 L369.5 33.4 L370.5 34.3 L371.3 35.2 L372.2 36.4 L373.0 37.6 L373.6 38.9 L374.2 40.2 L374.6 41.4 L375.0 42.7 L375.3 43.9 L375.6 45.1 L376.0 46.5 L376.3 47.9 L376.6 49.4 L376.7 50.7 L376.8 52.0 L376.9 53.5 L377.0 55.0 L377.1 56.2 L377.2 57.5 L377.3 58.8 L377.4 60.2 L377.6 61.6 L377.7 63.1 L377.9 64.5 L378.0 66.0 L378.1 67.3 L378.3 68.7 L378.4 70.0 L378.6 71.4 L378.7 72.7 L378.9 74.1 L379.0 75.6 L379.2 77.0 L379.3 78.5 L379.5 80.0 L379.6 81.3 L379.7 82.7 L379.9 84.2 L380.0 85.7 L380.1 87.2 L380.2 88.7 L380.3 90.2 L380.4 91.7 L380.6 93.2 L380.7 94.7 L380.9 96.1 L381.0 97.5 L381.2 98.8 L381.4 100.0 L381.7 101.6 L382.1 103.2 L382.4 104.6 L382.8 106.0 L383.2 107.3 L383.6 108.7 L384.0 110.0 L384.4 111.4 L384.8 112.8 L385.2 114.2 L385.6 115.5 L386.1 116.8 L386.5 118.0 L386.9 119.2 L387.4 120.4 L387.8 121.6 L388.4 122.7 L389.0 123.7 L390.0 124.8 L391.1 125.7 L392.3 126.7 L393.5 127.6 L394.4 128.4 L395.3 129.2 L396.2 130.0 L397.1 130.8 L398.0 131.6 L399.2 132.5 L400.4 133.4 L401.7 134.2 L403.0 134.9 L404.3 135.5 L405.7 136.0 L407.2 136.5 L408.6 136.9 L410.0 137.2 L411.2 137.4 L412.5 137.5 L413.7 137.5 L414.9 137.5 L416.0 137.5 L417.3 137.5 L418.5 137.5 L420.0 137.5 L421.0 137.5 L422.2 137.5 L423.4 137.4 L424.8 137.4 L426.1 137.3 L427.6 137.3 L429.0 137.2 L430.5 137.2 L432.0 137.1 L433.3 137.0 L434.6 137.0 L435.9 136.9 L437.3 136.9 L438.7 136.8 L440.1 136.7 L441.5 136.7 L443.0 136.6 L444.4 136.5 L445.8 136.5 L447.2 136.4 L448.6 136.3 L450.0 136.2 L451.4 136.1 L452.8 136.0 L454.2 135.9 L455.6 135.8 L457.0 135.6 L458.4 135.5 L459.8 135.4 L461.2 135.2 L462.6 135.1 L464.0 135.0 L465.5 134.9 L467.0 134.8 L468.3 134.7 L469.7 134.6 L471.1 134.6 L472.5 134.5 L474.0 134.4 L475.4 134.4 L476.9 134.3 L478.4 134.3 L479.9 134.2 L481.3 134.2 L482.8 134.1 L484.3 134.0 L485.7 134.0 L487.2 133.9 L488.6 133.9 L490.0 133.8 L491.5 133.7 L492.9 133.7 L494.3 133.6 L495.7 133.5 L497.1 133.5 L498.5 133.4 L499.9 133.3 L501.3 133.3 L502.7 133.2 L504.1 133.1 L505.6 133.0 L507.0 133.0 L508.5 132.9 L510.0 132.8 L511.3 132.7 L512.7 132.7 L514.1 132.6 L515.5 132.5 L516.9 132.4 L518.3 132.3 L519.7 132.2 L521.2 132.2 L522.6 132.1 L524.0 132.0 L525.5 131.9 L526.9 131.8 L528.4 131.7 L529.9 131.6 L531.3 131.6 L532.7 131.5 L534.2 131.4 L535.6 131.3" fill="none" stroke="#00ff00" stroke-width="2.1" stroke-dasharray="8.2 5.4" clip-path="url(#c1)"/>

<path d="M55.5 211.6 L57.0 211.6 L58.6 211.6 L60.2 211.6 L61.8 211.7 L63.5 211.7 L65.1 211.7 L66.8 211.7 L68.5 211.7 L70.2 211.7 L71.9 211.7 L73.5 211.8 L75.1 211.8 L76.7 211.8 L78.3 211.8 L79.8 211.8 L81.2 211.8 L82.5 211.8 L83.8 211.8 L85.0 211.8 L86.1 211.8 L87.1 211.8 L88.0 211.8 L89.6 211.8 L90.8 211.8 L91.9 211.7 L93.0 211.6 L94.2 211.4 L95.5 211.1 L96.7 210.8 L98.0 210.4 L99.2 210.0 L100.4 209.6 L101.6 209.1 L102.8 208.6 L104.0 208.1 L105.2 207.6 L106.3 207.1 L107.5 206.6 L108.7 206.1 L110.0 205.5 L111.1 205.0 L112.2 204.5 L113.4 203.9 L114.6 203.4 L115.9 202.8 L117.2 202.2 L118.6 201.5 L120.0 200.9 L121.1 200.4 L122.3 199.9 L123.6 199.4 L124.9 198.8 L126.2 198.3 L127.6 197.7 L128.9 197.1 L130.3 196.5 L131.8 195.9 L133.2 195.4 L134.6 194.8 L136.0 194.2 L137.3 193.6 L138.7 193.1 L140.0 192.5 L141.4 191.9 L142.8 191.3 L144.1 190.7 L145.5 190.1 L146.9 189.6 L148.2 189.0 L149.5 188.4 L150.9 187.8 L152.2 187.2 L153.6 186.7 L154.9 186.1 L156.2 185.6 L157.6 185.0 L158.9 184.5 L160.3 183.9 L161.6 183.4 L163.0 182.9 L164.3 182.4 L165.6 181.9 L167.0 181.4 L168.3 180.9 L169.6 180.4 L171.0 179.8 L172.3 179.3 L173.7 178.8 L175.0 178.3 L176.4 177.8 L177.8 177.2 L179.2 176.7 L180.6 176.1 L182.1 175.6 L183.5 175.0 L184.9 174.5 L186.3 173.9 L187.7 173.4 L189.0 172.9 L190.2 172.4 L191.4 171.9 L192.5 171.4 L194.0 170.8 L195.3 170.2 L196.6 169.6 L197.8 169.0 L198.9 168.5 L200.0 167.9 L201.2 167.1 L202.4 166.3 L203.5 165.6 L204.5 165.3 L205.7 165.5 L207.0 166.2 L207.9 166.6 L208.9 167.1 L209.9 167.7 L211.1 168.4 L212.3 169.1 L213.6 169.8 L215.0 170.5 L216.1 171.0 L217.2 171.6 L218.4 172.1 L219.7 172.7 L221.0 173.3 L222.3 173.9 L223.7 174.5 L225.1 175.2 L226.6 175.8 L228.0 176.4 L229.4 177.1 L230.9 177.7 L232.3 178.4 L233.6 179.0 L235.0 179.6 L236.3 180.2 L237.7 180.8 L239.0 181.5 L240.4 182.1 L241.7 182.7 L243.1 183.3 L244.4 183.9 L245.8 184.6 L247.1 185.2 L248.5 185.8 L249.8 186.4 L251.1 187.1 L252.4 187.7 L253.7 188.4 L255.0 189.0 L256.4 189.7 L257.7 190.4 L259.0 191.1 L260.3 191.8 L261.6 192.5 L262.9 193.2 L264.2 194.0 L265.5 194.7 L266.8 195.4 L268.1 196.1 L269.4 196.8 L270.7 197.6 L272.0 198.3 L273.3 199.0 L274.5 199.7 L275.7 200.4 L277.0 201.0 L278.2 201.7 L279.4 202.4 L280.7 203.1 L281.9 203.8 L283.2 204.5 L284.5 205.2 L285.8 205.9 L287.2 206.7 L288.6 207.4 L290.0 208.2 L291.2 208.8 L292.3 209.5 L293.5 210.1 L294.7 210.8 L296.0 211.5 L297.2 212.1 L298.5 212.8 L299.8 213.5 L301.1 214.2 L302.4 214.9 L303.7 215.7 L305.0 216.4 L306.4 217.1 L307.7 217.8 L309.1 218.6 L310.5 219.3 L311.8 220.1 L313.2 220.8 L314.6 221.5 L315.9 222.3 L317.3 223.0 L318.6 223.8 L320.0 224.5 L321.3 225.2 L322.5 225.9 L323.9 226.6 L325.2 227.3 L326.5 228.0 L327.9 228.8 L329.3 229.5 L330.6 230.3 L332.0 231.0 L333.4 231.8 L334.8 232.5 L336.2 233.3 L337.6 234.0 L338.9 234.8 L340.3 235.5 L341.7 236.3 L343.0 237.0 L344.3 237.7 L345.6 238.4 L346.9 239.1 L348.2 239.8 L349.4 240.5 L350.6 241.1 L351.7 241.8 L352.9 242.4 L354.0 243.0 L355.0 243.6 L356.5 244.4 L357.9 245.3 L359.3 246.1 L360.7 246.8 L362.0 247.6 L363.2 248.3 L364.4 249.0 L365.6 249.7 L366.7 250.4 L367.9 251.0 L368.9 251.7 L370.0 252.3 L371.5 253.2 L372.9 254.2 L374.2 255.2 L375.5 256.0 L376.6 256.6 L377.7 256.8 L378.8 256.6 L379.7 256.0 L381.0 255.2 L381.8 254.8 L382.7 254.3 L383.8 253.8 L385.0 253.2 L386.2 252.6 L387.6 252.0 L389.0 251.3 L390.5 250.5 L392.0 249.8 L393.5 249.0 L395.1 248.2 L396.6 247.5 L398.1 246.7 L399.6 246.0 L401.1 245.2 L402.5 244.5 L403.8 243.8 L405.0 243.2 L406.4 242.5 L407.6 241.8 L408.9 241.1 L410.1 240.4 L411.2 239.7 L412.4 239.1 L413.5 238.4 L414.7 237.8 L415.9 237.1 L417.2 236.4 L418.6 235.7 L420.0 235.0 L421.1 234.5 L422.3 233.9 L423.6 233.3 L424.8 232.8 L426.2 232.2 L427.5 231.6 L428.9 231.0 L430.3 230.4 L431.7 229.8 L433.1 229.2 L434.5 228.6 L436.0 228.0 L437.4 227.4 L438.9 226.8 L440.3 226.2 L441.8 225.6 L443.2 225.0 L444.6 224.4 L446.0 223.9 L447.4 223.3 L448.7 222.7 L450.0 222.2 L451.4 221.6 L452.9 220.9 L454.3 220.2 L455.8 219.5 L457.3 218.8 L458.9 218.1 L460.4 217.4 L461.8 216.6 L463.3 215.9 L464.7 215.3 L466.1 214.7 L467.4 214.1 L468.7 213.6 L469.8 213.2 L470.9 212.8 L471.9 212.6 L472.8 212.4 L473.6 212.4 L474.8 212.7 L475.6 213.4 L477.0 214.0 L477.6 214.1 L478.3 214.2 L479.1 214.3 L479.9 214.4 L480.9 214.5 L481.9 214.6 L483.0 214.6 L484.1 214.7 L485.3 214.7 L486.6 214.7 L487.9 214.7 L489.3 214.8 L490.7 214.8 L492.2 214.8 L493.7 214.8 L495.2 214.8 L496.8 214.7 L498.5 214.7 L500.1 214.7 L501.8 214.7 L503.5 214.6 L505.2 214.6 L507.0 214.6 L508.7 214.5 L510.5 214.5 L512.2 214.5 L514.0 214.4 L515.7 214.4 L517.5 214.3 L519.3 214.3 L521.0 214.3 L522.7 214.2 L524.4 214.2 L526.1 214.2 L527.8 214.2 L529.4 214.1 L531.0 214.1 L532.6 214.1 L534.1 214.1 L535.6 214.1" fill="none" stroke="#000" stroke-width="1.7" clip-path="url(#c2)"/>
<path d="M55.5 211.6 L57.0 211.6 L58.6 211.6 L60.2 211.6 L61.8 211.7 L63.5 211.7 L65.1 211.7 L66.8 211.7 L68.5 211.7 L70.2 211.7 L71.9 211.7 L73.5 211.8 L75.1 211.8 L76.7 211.8 L78.3 211.8 L79.8 211.8 L81.2 211.8 L82.5 211.8 L83.8 211.8 L85.0 211.8 L86.1 211.8 L87.1 211.8 L88.0 211.8 L89.6 211.8 L90.8 211.8 L91.9 211.7 L93.0 211.6 L94.2 211.4 L95.5 211.1 L96.7 210.7 L98.0 210.3 L99.2 209.9 L100.4 209.4 L101.6 208.9 L102.8 208.4 L104.0 207.9 L105.2 207.4 L106.3 206.9 L107.5 206.4 L108.7 205.9 L110.0 205.3 L111.1 204.8 L112.2 204.3 L113.4 203.7 L114.6 203.2 L115.9 202.6 L117.2 202.0 L118.6 201.3 L120.0 200.7 L121.1 200.2 L122.3 199.7 L123.6 199.2 L124.9 198.6 L126.2 198.1 L127.6 197.5 L128.9 196.9 L130.3 196.3 L131.8 195.7 L133.2 195.2 L134.6 194.6 L136.0 194.0 L137.3 193.4 L138.7 192.9 L140.0 192.3 L141.4 191.7 L142.8 191.1 L144.1 190.5 L145.5 189.9 L146.9 189.4 L148.2 188.8 L149.5 188.2 L150.9 187.6 L152.2 187.0 L153.6 186.5 L154.9 185.9 L156.2 185.4 L157.6 184.8 L158.9 184.3 L160.3 183.7 L161.6 183.2 L163.0 182.7 L164.3 182.2 L165.6 181.7 L167.0 181.2 L168.3 180.7 L169.6 180.2 L171.0 179.6 L172.3 179.1 L173.7 178.6 L175.0 178.1 L176.4 177.6 L177.8 177.0 L179.2 176.5 L180.6 175.9 L182.1 175.4 L183.5 174.8 L184.9 174.3 L186.3 173.7 L187.7 173.2 L189.0 172.7 L190.2 172.1 L191.4 171.7 L192.5 171.2 L194.0 170.6 L195.3 170.0 L196.6 169.4 L197.8 168.9 L198.9 168.3 L200.0 167.8 L201.2 167.1 L202.4 166.3 L203.5 165.7 L204.5 165.4 L205.7 165.7 L207.0 166.4 L207.9 166.8 L208.9 167.4 L209.9 168.0 L211.1 168.7 L212.3 169.4 L213.6 170.1 L215.0 170.8 L216.1 171.3 L217.2 171.9 L218.4 172.4 L219.7 173.0 L221.0 173.6 L222.3 174.2 L223.7 174.8 L225.1 175.5 L226.6 176.1 L228.0 176.7 L229.4 177.4 L230.9 178.0 L232.3 178.7 L233.6 179.3 L235.0 179.9 L236.3 180.5 L237.7 181.1 L239.0 181.8 L240.4 182.4 L241.7 183.0 L243.1 183.6 L244.4 184.2 L245.8 184.9 L247.1 185.5 L248.5 186.1 L249.8 186.7 L251.1 187.4 L252.4 188.0 L253.7 188.7 L255.0 189.3 L256.4 190.0 L257.7 190.7 L259.0 191.4 L260.3 192.1 L261.6 192.8 L262.9 193.5 L264.2 194.3 L265.5 195.0 L266.8 195.7 L268.1 196.4 L269.4 197.1 L270.7 197.9 L272.0 198.6 L273.3 199.3 L274.5 200.0 L275.7 200.7 L277.0 201.3 L278.2 202.0 L279.4 202.7 L280.7 203.4 L281.9 204.1 L283.2 204.8 L284.5 205.5 L285.8 206.2 L287.2 207.0 L288.6 207.7 L290.0 208.5 L291.2 209.1 L292.3 209.8 L293.5 210.4 L294.7 211.1 L296.0 211.8 L297.2 212.4 L298.5 213.1 L299.8 213.8 L301.1 214.5 L302.4 215.2 L303.7 216.0 L305.0 216.7 L306.4 217.4 L307.7 218.1 L309.1 218.9 L310.5 219.6 L311.8 220.4 L313.2 221.1 L314.6 221.8 L315.9 222.6 L317.3 223.3 L318.6 224.1 L320.0 224.8 L321.3 225.5 L322.5 226.2 L323.9 226.9 L325.2 227.6 L326.5 228.3 L327.9 229.1 L329.3 229.8 L330.6 230.6 L332.0 231.3 L333.4 232.1 L334.8 232.8 L336.2 233.6 L337.6 234.3 L338.9 235.1 L340.3 235.8 L341.7 236.6 L343.0 237.3 L344.3 238.0 L345.6 238.7 L346.9 239.4 L348.2 240.1 L349.4 240.8 L350.6 241.4 L351.7 242.1 L352.9 242.7 L354.0 243.3 L355.0 243.9 L356.5 244.7 L357.9 245.6 L359.3 246.4 L360.7 247.1 L362.0 247.9 L363.2 248.6 L364.4 249.3 L365.6 250.0 L366.7 250.7 L367.9 251.4 L368.9 252.0 L370.0 252.6 L371.5 253.5 L372.9 254.5 L374.2 255.4 L375.5 256.2 L376.6 256.8 L377.7 257.0 L378.8 256.8 L379.7 256.3 L381.0 255.6 L381.8 255.2 L382.7 254.8 L383.8 254.3 L385.0 253.7 L386.2 253.1 L387.6 252.4 L389.0 251.7 L390.5 251.0 L392.0 250.2 L393.5 249.5 L395.1 248.7 L396.6 247.9 L398.1 247.1 L399.6 246.4 L401.1 245.6 L402.5 244.9 L403.8 244.2 L405.0 243.6 L406.4 242.9 L407.6 242.2 L408.9 241.5 L410.1 240.8 L411.2 240.1 L412.4 239.5 L413.5 238.8 L414.7 238.2 L415.9 237.5 L417.2 236.8 L418.6 236.1 L420.0 235.4 L421.1 234.9 L422.3 234.3 L423.6 233.7 L424.8 233.2 L426.2 232.6 L427.5 232.0 L428.9 231.4 L430.3 230.8 L431.7 230.2 L433.1 229.6 L434.5 229.0 L436.0 228.4 L437.4 227.8 L438.9 227.2 L440.3 226.6 L441.8 226.0 L443.2 225.4 L444.6 224.8 L446.0 224.3 L447.4 223.7 L448.7 223.1 L450.0 222.6 L451.4 222.0 L452.9 221.3 L454.4 220.7 L455.9 219.9 L457.4 219.2 L458.9 218.5 L460.4 217.8 L461.9 217.0 L463.4 216.4 L464.8 215.7 L466.2 215.1 L467.5 214.5 L468.8 214.0 L469.9 213.6 L471.0 213.3 L472.0 213.1 L472.9 212.9 L473.6 212.9 L474.6 213.2 L475.3 213.8 L476.5 214.5 L477.1 214.7 L477.7 214.9 L478.5 215.1 L479.3 215.3 L480.3 215.5 L481.3 215.7 L482.3 216.0 L483.5 216.2 L484.7 216.4 L486.0 216.7 L487.3 216.9 L488.7 217.2 L490.1 217.4 L491.6 217.7 L493.1 217.9 L494.7 218.2 L496.3 218.4 L497.9 218.7 L499.6 219.0 L501.3 219.3 L503.0 219.5 L504.8 219.8 L506.6 220.1 L508.3 220.4 L510.1 220.6 L511.9 220.9 L513.7 221.2 L515.5 221.5 L517.3 221.7 L519.1 222.0 L520.8 222.3 L522.6 222.6 L524.3 222.8 L526.0 223.1 L527.7 223.4 L529.3 223.7 L531.0 223.9 L532.6 224.2 L534.1 224.4 L535.6 224.7" fill="none" stroke="#0000ff" stroke-width="2.1" stroke-dasharray="7.2 2.6 1.4 2.6" clip-path="url(#c2)"/>
<path d="M55.5 211.8 L57.0 211.8 L58.5 211.8 L60.0 211.9 L61.6 211.9 L63.2 211.9 L64.8 211.9 L66.4 212.0 L68.1 212.0 L69.7 212.0 L71.3 212.1 L72.9 212.1 L74.5 212.1 L76.1 212.1 L77.6 212.2 L79.1 212.2 L80.6 212.2 L82.0 212.2 L83.4 212.2 L84.7 212.2 L85.9 212.2 L87.0 212.2 L88.1 212.2 L89.1 212.2 L90.0 212.2 L91.5 212.2 L92.8 212.1 L93.8 212.1 L94.9 212.0 L96.0 211.8 L97.2 211.5 L98.4 211.2 L99.5 210.8 L100.8 210.4 L102.0 210.0 L103.3 209.6 L104.6 209.1 L105.9 208.6 L107.2 208.1 L108.6 207.5 L110.0 207.0 L111.2 206.5 L112.3 206.1 L113.5 205.6 L114.7 205.1 L116.0 204.6 L117.2 204.0 L118.6 203.5 L120.0 202.9 L121.1 202.4 L122.3 201.9 L123.6 201.4 L124.9 200.9 L126.2 200.3 L127.6 199.8 L129.0 199.2 L130.4 198.6 L131.8 198.0 L133.2 197.4 L134.6 196.8 L136.0 196.3 L137.3 195.7 L138.7 195.1 L140.0 194.6 L141.4 194.0 L142.8 193.5 L144.1 192.9 L145.5 192.4 L146.9 191.8 L148.2 191.3 L149.5 190.7 L150.9 190.2 L152.2 189.7 L153.6 189.1 L154.9 188.6 L156.3 188.0 L157.6 187.5 L158.9 187.0 L160.3 186.4 L161.6 185.9 L163.0 185.4 L164.3 184.8 L165.6 184.3 L167.0 183.8 L168.3 183.3 L169.6 182.7 L171.0 182.2 L172.3 181.7 L173.7 181.1 L175.0 180.6 L176.4 180.1 L177.7 179.5 L179.1 178.9 L180.5 178.4 L181.9 177.8 L183.3 177.2 L184.6 176.7 L186.0 176.1 L187.4 175.5 L188.7 175.0 L190.0 174.5 L191.3 173.9 L192.5 173.4 L194.0 172.8 L195.4 172.2 L196.9 171.6 L198.4 171.0 L199.7 170.4 L201.1 169.8 L202.3 169.2 L203.5 168.7 L204.5 168.2 L205.7 167.5 L206.7 166.9 L207.6 166.3 L208.5 165.8 L209.5 165.4 L210.5 165.2 L211.8 165.5 L213.0 166.0 L213.9 166.4 L215.0 166.9 L215.7 167.2 L216.6 167.6 L217.7 168.1 L218.8 168.6 L220.1 169.2 L221.5 169.8 L223.0 170.5 L224.5 171.2 L226.0 171.8 L227.6 172.5 L229.1 173.2 L230.7 173.9 L232.2 174.6 L233.6 175.3 L235.0 175.9 L236.3 176.5 L237.7 177.1 L239.1 177.7 L240.5 178.3 L241.8 178.9 L243.2 179.6 L244.6 180.2 L246.0 180.8 L247.3 181.4 L248.7 182.0 L250.0 182.6 L251.3 183.2 L252.6 183.8 L253.8 184.4 L255.0 185.0 L256.4 185.7 L257.8 186.5 L259.1 187.2 L260.5 187.9 L261.7 188.6 L263.0 189.3 L264.2 190.1 L265.5 190.8 L266.7 191.5 L268.0 192.2 L269.2 192.9 L270.5 193.6 L271.7 194.3 L272.9 195.0 L274.1 195.7 L275.3 196.3 L276.5 197.0 L277.7 197.7 L278.8 198.3 L280.0 199.0 L281.3 199.7 L282.5 200.4 L283.7 201.0 L284.9 201.7 L286.0 202.3 L287.3 203.0 L288.6 203.8 L290.0 204.6 L291.1 205.2 L292.2 205.9 L293.3 206.6 L294.5 207.3 L295.8 208.0 L297.0 208.8 L298.3 209.6 L299.6 210.4 L300.9 211.2 L302.2 212.0 L303.5 212.8 L304.8 213.6 L306.2 214.4 L307.5 215.2 L308.7 216.0 L310.0 216.8 L311.2 217.6 L312.5 218.3 L313.7 219.1 L314.9 219.8 L316.2 220.6 L317.4 221.4 L318.6 222.1 L319.8 222.9 L321.1 223.6 L322.3 224.4 L323.6 225.2 L324.8 225.9 L326.1 226.7 L327.4 227.5 L328.7 228.2 L330.0 229.0 L331.2 229.7 L332.4 230.4 L333.6 231.1 L334.9 231.8 L336.2 232.6 L337.5 233.3 L338.8 234.0 L340.1 234.8 L341.4 235.5 L342.7 236.3 L344.0 237.0 L345.3 237.7 L346.6 238.4 L347.9 239.1 L349.1 239.8 L350.3 240.5 L351.6 241.2 L352.7 241.8 L353.9 242.4 L355.0 243.0 L356.4 243.7 L357.7 244.4 L359.1 245.1 L360.4 245.8 L361.7 246.4 L362.9 247.0 L364.1 247.6 L365.4 248.2 L366.5 248.8 L367.7 249.4 L368.9 249.9 L370.0 250.5 L371.4 251.2 L372.7 251.9 L374.1 252.7 L375.4 253.4 L376.7 254.0 L377.8 254.6 L379.0 255.2 L380.0 255.6 L381.5 256.2 L382.7 256.7 L384.0 256.8 L385.2 256.5 L386.5 255.8 L388.0 255.0 L388.9 254.6 L390.0 254.0 L391.1 253.5 L392.4 252.8 L393.7 252.2 L395.1 251.5 L396.5 250.7 L398.0 250.0 L399.5 249.3 L400.9 248.5 L402.3 247.8 L403.7 247.1 L405.0 246.5 L406.3 245.9 L407.5 245.3 L408.7 244.7 L409.9 244.2 L411.1 243.6 L412.2 243.1 L413.4 242.5 L414.7 241.9 L415.9 241.3 L417.2 240.7 L418.6 240.1 L420.0 239.4 L421.1 238.9 L422.3 238.3 L423.5 237.7 L424.7 237.1 L426.0 236.5 L427.3 235.8 L428.7 235.2 L430.0 234.5 L431.4 233.8 L432.8 233.1 L434.2 232.4 L435.6 231.7 L437.1 231.0 L438.5 230.3 L439.8 229.6 L441.2 229.0 L442.6 228.3 L443.9 227.7 L445.2 227.0 L446.5 226.4 L447.7 225.9 L448.9 225.3 L450.0 224.8 L451.5 224.1 L453.0 223.5 L454.4 222.9 L455.8 222.3 L457.1 221.7 L458.4 221.1 L459.7 220.6 L461.0 220.1 L462.2 219.6 L463.4 219.1 L464.6 218.6 L465.8 218.1 L467.2 217.5 L468.5 217.0 L469.9 216.4 L471.1 215.8 L472.4 215.3 L473.5 214.9 L474.6 214.5 L475.6 214.3 L476.7 214.2 L477.6 214.2 L479.0 214.2 L479.6 214.2 L480.4 214.2 L481.2 214.2 L482.1 214.2 L483.0 214.2 L484.1 214.2 L485.2 214.2 L486.4 214.1 L487.7 214.1 L489.0 214.1 L490.4 214.1 L491.8 214.1 L493.3 214.1 L494.8 214.1 L496.4 214.1 L498.0 214.1 L499.6 214.1 L501.3 214.1 L503.0 214.1 L504.7 214.1 L506.5 214.1 L508.2 214.1 L510.0 214.1 L511.8 214.1 L513.6 214.1 L515.4 214.1 L517.2 214.1 L519.0 214.1 L520.7 214.1 L522.5 214.1 L524.2 214.1 L525.9 214.1 L527.6 214.1 L529.3 214.1 L530.9 214.1 L532.5 214.1 L534.1 214.1 L535.6 214.1" fill="none" stroke="#ff0000" stroke-width="2.7" stroke-dasharray="6.4 2.2 2.8 2.2" clip-path="url(#c2)"/>
<path d="M55.5 211.6 L57.0 211.6 L58.5 211.6 L60.0 211.6 L61.6 211.7 L63.2 211.7 L64.9 211.7 L66.5 211.7 L68.1 211.7 L69.8 211.8 L71.4 211.8 L73.1 211.8 L74.7 211.8 L76.3 211.8 L77.8 211.8 L79.3 211.9 L80.8 211.9 L82.2 211.9 L83.6 211.9 L84.8 211.9 L86.0 211.9 L87.2 211.9 L88.2 211.8 L89.2 211.8 L90.0 211.8 L91.6 211.7 L92.8 211.7 L93.9 211.6 L95.0 211.4 L96.2 211.1 L97.5 210.7 L98.7 210.3 L100.0 209.8 L101.2 209.3 L102.4 208.9 L103.6 208.3 L104.8 207.8 L106.0 207.3 L107.2 206.8 L108.4 206.3 L109.5 205.8 L110.7 205.3 L112.0 204.8 L113.2 204.3 L114.4 203.7 L115.7 203.1 L117.0 202.5 L118.4 201.9 L120.0 201.2 L121.1 200.7 L122.2 200.3 L123.4 199.7 L124.7 199.2 L126.0 198.7 L127.4 198.1 L128.8 197.5 L130.2 196.9 L131.7 196.4 L133.1 195.8 L134.5 195.2 L135.9 194.6 L137.3 194.0 L138.7 193.5 L140.0 192.9 L141.4 192.3 L142.8 191.7 L144.1 191.1 L145.5 190.6 L146.9 190.0 L148.2 189.4 L149.5 188.8 L150.9 188.2 L152.2 187.7 L153.6 187.1 L154.9 186.5 L156.2 186.0 L157.6 185.4 L158.9 184.9 L160.3 184.3 L161.6 183.8 L163.0 183.3 L164.3 182.7 L165.6 182.2 L167.0 181.7 L168.3 181.2 L169.6 180.7 L171.0 180.2 L172.3 179.6 L173.7 179.1 L175.0 178.6 L176.4 178.1 L177.8 177.5 L179.2 177.0 L180.6 176.4 L182.1 175.8 L183.5 175.3 L184.9 174.7 L186.3 174.1 L187.7 173.6 L189.0 173.1 L190.2 172.6 L191.4 172.1 L192.5 171.6 L194.0 171.0 L195.3 170.4 L196.5 169.8 L197.7 169.3 L198.9 168.7 L200.0 168.2 L201.4 167.5 L202.7 166.8 L204.0 166.2 L205.0 165.8 L205.8 165.6 L206.5 165.5 L207.6 165.8 L209.0 166.3 L210.0 166.6 L211.1 167.0 L212.2 167.5 L213.5 168.0 L215.0 168.6 L216.0 169.0 L217.1 169.5 L218.3 170.0 L219.5 170.6 L220.8 171.2 L222.2 171.8 L223.6 172.5 L225.0 173.1 L226.4 173.8 L227.9 174.5 L229.4 175.2 L230.8 175.9 L232.2 176.5 L233.6 177.2 L235.0 177.8 L236.3 178.4 L237.7 179.0 L239.0 179.6 L240.4 180.2 L241.7 180.8 L243.1 181.4 L244.4 181.9 L245.8 182.5 L247.1 183.1 L248.5 183.7 L249.8 184.3 L251.1 184.9 L252.4 185.5 L253.7 186.2 L255.0 186.8 L256.4 187.5 L257.7 188.2 L259.0 188.9 L260.3 189.6 L261.6 190.4 L262.9 191.1 L264.2 191.8 L265.5 192.6 L266.8 193.3 L268.1 194.1 L269.4 194.8 L270.7 195.6 L272.0 196.3 L273.3 197.0 L274.5 197.7 L275.7 198.4 L277.0 199.1 L278.2 199.8 L279.4 200.5 L280.7 201.2 L281.9 201.9 L283.2 202.7 L284.5 203.4 L285.8 204.2 L287.2 204.9 L288.6 205.7 L290.0 206.5 L291.1 207.1 L292.3 207.8 L293.5 208.5 L294.7 209.1 L296.0 209.8 L297.2 210.5 L298.5 211.2 L299.8 211.9 L301.1 212.6 L302.4 213.3 L303.7 214.1 L305.0 214.8 L306.4 215.5 L307.7 216.3 L309.1 217.0 L310.5 217.7 L311.8 218.5 L313.2 219.2 L314.6 220.0 L315.9 220.7 L317.3 221.5 L318.6 222.3 L320.0 223.0 L321.3 223.7 L322.5 224.4 L323.8 225.1 L325.2 225.9 L326.5 226.6 L327.8 227.4 L329.2 228.1 L330.6 228.9 L331.9 229.6 L333.3 230.4 L334.7 231.2 L336.1 231.9 L337.4 232.7 L338.8 233.5 L340.2 234.2 L341.5 235.0 L342.8 235.7 L344.2 236.4 L345.5 237.2 L346.7 237.9 L348.0 238.6 L349.3 239.3 L350.5 240.0 L351.6 240.6 L352.8 241.3 L353.9 241.9 L355.0 242.5 L356.5 243.4 L358.0 244.2 L359.5 245.0 L360.9 245.8 L362.3 246.6 L363.7 247.4 L365.0 248.1 L366.3 248.8 L367.6 249.5 L368.7 250.2 L369.9 250.8 L371.0 251.4 L372.0 252.0 L373.5 252.9 L375.0 253.9 L376.3 254.7 L377.4 255.3 L378.5 255.6 L379.7 255.3 L381.0 254.5 L381.9 254.0 L382.9 253.4 L384.0 252.6 L385.1 251.8 L386.4 251.0 L387.6 250.1 L388.8 249.3 L390.0 248.5 L391.2 247.7 L392.4 246.9 L393.6 246.2 L394.8 245.4 L396.0 244.6 L397.3 243.8 L398.6 242.9 L400.0 242.0 L401.0 241.3 L402.0 240.6 L403.1 239.9 L404.2 239.2 L405.4 238.4 L406.6 237.6 L407.8 236.8 L409.0 236.0 L410.2 235.1 L411.4 234.3 L412.7 233.4 L413.9 232.6 L415.2 231.7 L416.4 230.9 L417.6 230.1 L418.8 229.2 L420.0 228.4 L421.2 227.6 L422.4 226.7 L423.6 225.9 L424.8 225.1 L426.0 224.2 L427.2 223.4 L428.4 222.5 L429.6 221.7 L430.7 220.8 L431.9 220.0 L433.1 219.1 L434.3 218.3 L435.5 217.5 L436.6 216.6 L437.8 215.8 L438.9 215.0 L440.0 214.2 L441.2 213.3 L442.4 212.5 L443.6 211.6 L444.8 210.7 L446.0 209.8 L447.2 209.0 L448.3 208.1 L449.5 207.3 L450.6 206.4 L451.7 205.6 L452.8 204.8 L453.9 204.0 L455.0 203.3 L456.0 202.5 L457.3 201.6 L458.5 200.7 L459.7 199.9 L460.8 199.1 L462.0 198.3 L463.1 197.5 L464.2 196.6 L465.4 195.8 L466.5 195.0 L467.6 194.1 L468.8 193.2 L469.9 192.3 L471.0 191.4 L472.2 190.4 L473.3 189.6 L474.4 188.7 L475.6 188.0 L476.7 187.3 L478.0 186.6 L479.3 186.1 L480.6 185.6 L481.9 185.2 L483.3 184.8 L484.6 184.4 L486.0 184.0 L487.2 183.7 L488.5 183.3 L489.7 183.0 L491.0 182.8 L492.2 182.5 L493.6 182.3 L494.9 182.0 L496.4 181.8 L497.6 181.6 L498.9 181.5 L500.3 181.3 L501.7 181.2 L503.1 181.1 L504.6 181.0 L506.0 180.8 L507.5 180.7 L509.0 180.6 L510.5 180.6 L512.0 180.5 L513.5 180.4 L515.0 180.3 L516.4 180.2 L517.9 180.2 L519.3 180.1 L520.8 180.0 L522.3 180.0 L523.8 179.9 L525.2 179.9 L526.7 179.9 L528.2 179.8 L529.7 179.8 L531.2 179.7 L532.6 179.7 L534.1 179.6 L535.6 179.6" fill="none" stroke="#00ff00" stroke-width="2.1" stroke-dasharray="8.2 5.4" clip-path="url(#c2)"/>

<path d="M55.5 398.0 L57.0 398.0 L58.5 398.0 L60.0 398.0 L61.6 398.0 L63.1 398.0 L64.7 398.0 L66.3 398.0 L67.9 398.0 L69.5 398.0 L71.1 398.0 L72.7 398.0 L74.4 398.0 L76.0 398.0 L77.7 398.0 L79.4 398.0 L81.0 398.0 L82.7 398.0 L84.4 398.0 L86.1 398.0 L87.8 398.0 L89.5 398.0 L91.2 398.0 L93.0 398.0 L94.7 398.0 L96.4 398.0 L98.1 398.0 L99.9 398.0 L101.6 398.0 L103.3 398.0 L105.0 398.0 L106.8 398.0 L108.5 398.0 L110.2 398.0 L111.9 398.0 L113.7 398.0 L115.4 398.0 L117.1 398.0 L118.8 398.0 L120.5 398.0 L122.1 398.0 L123.8 398.0 L125.5 398.0 L127.2 398.0 L128.8 398.0 L130.5 398.0 L132.1 398.0 L133.7 398.0 L135.3 398.0 L136.9 398.0 L138.5 398.0 L140.1 398.0 L141.6 398.0 L143.2 398.0 L144.7 398.0 L146.2 398.0 L147.7 398.0 L149.2 398.0 L150.6 398.0 L152.0 398.0 L153.5 398.0 L154.9 398.0 L156.2 398.0 L157.6 398.0 L158.9 398.0 L160.2 398.0 L161.5 398.0 L162.8 398.0 L164.0 398.0 L165.2 398.0 L166.4 397.9 L167.6 397.9 L168.7 397.9 L169.8 397.9 L170.9 397.9 L172.0 397.9 L173.0 397.9 L174.0 397.9 L174.9 397.9 L175.9 397.9 L176.7 397.9 L177.6 397.8 L178.4 397.8 L179.2 397.8 L180.0 397.8 L182.0 397.8 L183.8 397.8 L185.5 397.8 L187.0 397.8 L188.3 397.8 L189.6 397.7 L190.8 397.7 L191.9 397.6 L193.0 397.5 L194.0 397.3 L195.4 397.0 L196.7 396.5 L197.8 396.0 L198.8 395.4 L199.7 394.7 L200.5 393.9 L201.2 393.0 L201.8 392.0 L202.2 391.0 L202.6 389.9 L202.9 388.7 L203.1 387.4 L203.3 386.0 L203.5 384.9 L203.6 383.6 L203.7 382.3 L203.8 381.0 L203.9 379.5 L203.9 378.1 L204.0 376.5 L204.0 374.9 L204.1 373.3 L204.1 371.7 L204.2 370.0 L204.2 368.8 L204.3 367.5 L204.3 366.2 L204.4 364.9 L204.4 363.5 L204.5 362.1 L204.5 360.7 L204.6 359.3 L204.6 357.8 L204.6 356.3 L204.7 354.8 L204.7 353.3 L204.7 351.8 L204.8 350.3 L204.8 348.8 L204.8 347.3 L204.9 345.9 L204.9 344.4 L204.9 342.9 L205.0 341.4 L205.0 340.0 L205.0 338.6 L205.1 337.1 L205.1 335.6 L205.1 334.1 L205.1 332.6 L205.2 331.1 L205.2 329.6 L205.2 328.1 L205.2 326.6 L205.2 325.1 L205.3 323.6 L205.3 322.1 L205.3 320.7 L205.3 319.2 L205.3 317.8 L205.4 316.4 L205.4 315.1 L205.4 313.7 L205.4 312.5 L205.5 311.2 L205.5 310.0 L205.5 308.4 L205.6 306.9 L205.6 305.4 L205.6 303.9 L205.6 302.4 L205.6 301.1 L205.7 299.7 L205.7 298.5 L205.8 297.2 L205.9 296.1 L206.0 295.0 L206.2 293.6 L206.4 292.3 L206.6 291.1 L206.9 290.0 L207.3 289.0 L207.9 287.8 L208.6 286.8 L209.5 286.0 L210.5 285.5 L211.6 285.2 L213.0 285.0 L214.0 284.9 L215.0 284.8 L216.1 284.7 L217.3 284.6 L218.6 284.6 L220.0 284.5 L221.5 284.5 L223.2 284.4 L225.0 284.4 L225.9 284.4 L226.8 284.4 L227.8 284.3 L228.8 284.3 L229.8 284.3 L231.0 284.3 L232.1 284.3 L233.3 284.3 L234.6 284.2 L235.8 284.2 L237.2 284.2 L238.5 284.2 L239.9 284.2 L241.3 284.2 L242.8 284.2 L244.2 284.2 L245.7 284.2 L247.3 284.2 L248.8 284.2 L250.4 284.2 L252.0 284.2 L253.6 284.2 L255.2 284.2 L256.9 284.2 L258.5 284.2 L260.2 284.2 L261.8 284.2 L263.5 284.2 L265.2 284.2 L266.9 284.2 L268.6 284.2 L270.3 284.2 L271.9 284.2 L273.6 284.2 L275.3 284.2 L277.0 284.2 L278.6 284.2 L280.3 284.2 L281.9 284.2 L283.6 284.2 L285.2 284.2 L286.8 284.2 L288.3 284.2 L289.9 284.2 L291.4 284.2 L292.9 284.2 L294.4 284.2 L295.8 284.2 L297.3 284.2 L298.6 284.2 L300.0 284.2 L301.6 284.2 L303.3 284.2 L305.0 284.2 L306.7 284.2 L308.4 284.2 L310.1 284.2 L311.8 284.2 L313.6 284.2 L315.3 284.2 L317.0 284.2 L318.8 284.2 L320.5 284.2 L322.2 284.2 L323.9 284.2 L325.6 284.2 L327.3 284.2 L329.0 284.2 L330.6 284.2 L332.2 284.3 L333.8 284.3 L335.3 284.3 L336.9 284.3 L338.3 284.3 L339.8 284.3 L341.2 284.3 L342.5 284.3 L343.8 284.3 L345.0 284.3 L346.2 284.3 L347.3 284.3 L348.4 284.3 L349.4 284.4 L350.3 284.4 L351.2 284.4 L352.0 284.4 L353.6 284.4 L354.8 284.5 L355.9 284.5 L356.9 284.5 L358.0 284.6 L359.2 284.7 L360.4 284.8 L361.6 284.9 L362.8 285.0 L364.0 285.2 L365.2 285.4 L366.5 285.6 L367.8 285.8 L368.9 286.2 L370.0 286.7 L371.1 287.5 L372.0 288.6 L372.9 289.7 L373.6 291.0 L374.1 292.1 L374.6 293.4 L374.9 294.7 L375.3 296.1 L375.5 297.5 L375.8 298.8 L376.0 300.2 L376.2 301.6 L376.4 303.0 L376.5 304.4 L376.6 306.0 L376.7 307.2 L376.8 308.4 L376.8 309.7 L376.9 311.1 L376.9 312.5 L377.0 313.9 L377.0 315.4 L377.1 316.9 L377.1 318.4 L377.2 320.0 L377.2 321.3 L377.3 322.6 L377.3 324.0 L377.4 325.4 L377.4 326.8 L377.5 328.3 L377.5 329.8 L377.6 331.3 L377.6 332.8 L377.7 334.3 L377.7 335.9 L377.8 337.4 L377.8 339.0 L377.9 340.5 L377.9 342.0 L378.0 343.5 L378.0 345.0 L378.0 346.5 L378.1 348.0 L378.1 349.5 L378.2 351.0 L378.2 352.6 L378.2 354.1 L378.3 355.6 L378.3 357.2 L378.4 358.7 L378.4 360.2 L378.4 361.7 L378.5 363.1 L378.5 364.6 L378.6 366.0 L378.6 367.4 L378.7 368.7 L378.7 370.0 L378.7 371.6 L378.8 373.3 L378.8 374.9 L378.8 376.4 L378.8 378.0 L378.8 379.4 L378.9 380.8 L379.0 382.1 L379.2 383.4 L379.4 384.5 L379.8 385.8 L380.3 387.0 L380.8 388.0 L381.4 389.0 L382.0 390.0 L382.8 391.2 L383.7 392.4 L384.6 393.4 L385.7 394.3 L386.9 395.0 L388.2 395.5 L389.6 395.9 L391.0 396.2 L392.3 396.5 L393.5 396.6 L394.9 396.8 L396.3 396.9 L398.0 397.0 L399.1 397.1 L400.2 397.1 L401.3 397.2 L402.5 397.2 L403.8 397.3 L405.1 397.3 L406.4 397.4 L407.9 397.4 L409.4 397.4 L410.9 397.5 L412.6 397.5 L414.3 397.5 L416.1 397.5 L418.0 397.6 L420.0 397.6 L420.9 397.6 L421.9 397.6 L422.8 397.6 L423.8 397.7 L424.9 397.7 L425.9 397.7 L427.0 397.7 L428.1 397.7 L429.2 397.7 L430.4 397.7 L431.6 397.7 L432.8 397.7 L434.0 397.7 L435.3 397.8 L436.5 397.8 L437.8 397.8 L439.1 397.8 L440.5 397.8 L441.8 397.8 L443.2 397.8 L444.6 397.8 L446.0 397.8 L447.4 397.8 L448.9 397.8 L450.3 397.8 L451.8 397.8 L453.3 397.8 L454.8 397.8 L456.3 397.8 L457.9 397.9 L459.4 397.9 L461.0 397.9 L462.5 397.9 L464.1 397.9 L465.7 397.9 L467.3 397.9 L468.9 397.9 L470.5 397.9 L472.1 397.9 L473.8 397.9 L475.4 397.9 L477.0 397.9 L478.7 397.9 L480.3 397.9 L482.0 397.9 L483.7 397.9 L485.3 397.9 L487.0 397.9 L488.7 397.9 L490.4 397.9 L492.0 397.9 L493.7 397.9 L495.4 397.9 L497.1 397.9 L498.7 397.9 L500.4 397.9 L502.1 397.9 L503.7 397.9 L505.4 397.9 L507.1 397.9 L508.7 397.9 L510.4 397.9 L512.0 397.9 L513.7 397.9 L515.3 397.9 L516.9 398.0 L518.5 398.0 L520.1 398.0 L521.7 398.0 L523.3 398.0 L524.9 398.0 L526.5 398.0 L528.0 398.0 L529.6 398.0 L531.1 398.0 L532.6 398.0 L534.1 398.0 L535.6 398.0" fill="none" stroke="#000" stroke-width="1.7" clip-path="url(#c3)"/>
<path d="M55.5 398.0 L57.0 398.0 L58.4 398.0 L59.9 398.0 L61.4 398.0 L62.9 398.0 L64.4 398.0 L65.9 398.0 L67.4 398.0 L68.9 398.0 L70.5 398.0 L72.0 398.0 L73.5 398.0 L75.0 398.0 L76.6 398.0 L78.1 398.0 L79.6 398.0 L81.1 398.0 L82.6 398.0 L84.2 398.0 L85.7 398.0 L87.2 398.0 L88.7 398.0 L90.2 398.0 L91.7 398.0 L93.2 397.9 L94.7 397.9 L96.2 397.9 L97.7 397.9 L99.1 397.9 L100.6 397.9 L102.1 397.9 L103.5 397.9 L105.0 397.9 L106.4 397.9 L107.8 397.9 L109.2 397.9 L110.6 397.9 L112.0 397.9 L113.4 397.9 L114.7 397.9 L116.1 397.8 L117.4 397.8 L118.7 397.8 L120.0 397.8 L121.6 397.8 L123.3 397.8 L124.9 397.7 L126.5 397.7 L128.1 397.7 L129.6 397.7 L131.2 397.6 L132.7 397.6 L134.3 397.6 L135.8 397.6 L137.3 397.5 L138.7 397.5 L140.2 397.5 L141.7 397.4 L143.1 397.4 L144.6 397.4 L146.0 397.3 L147.4 397.3 L148.9 397.3 L150.3 397.2 L151.7 397.2 L153.1 397.2 L154.5 397.1 L155.9 397.1 L157.2 397.1 L158.6 397.0 L160.0 397.0 L161.5 397.0 L163.1 396.9 L164.7 396.9 L166.2 396.8 L167.8 396.8 L169.4 396.8 L170.9 396.7 L172.5 396.7 L174.0 396.6 L175.5 396.6 L177.0 396.5 L178.5 396.5 L179.9 396.5 L181.4 396.4 L182.7 396.4 L184.1 396.4 L185.4 396.3 L186.6 396.3 L187.8 396.3 L188.9 396.2 L190.0 396.2 L191.8 396.2 L193.4 396.2 L194.9 396.2 L196.4 396.2 L197.7 396.2 L198.9 396.1 L200.0 396.0 L201.4 395.8 L202.6 395.4 L203.5 394.8 L204.0 393.9 L204.3 392.8 L204.4 391.5 L204.6 390.0 L204.7 389.0 L204.8 387.9 L204.8 386.8 L204.9 385.5 L204.9 384.2 L204.9 382.8 L205.0 381.3 L205.0 379.8 L205.0 378.2 L205.0 376.6 L205.0 375.0 L205.0 373.3 L205.0 371.7 L205.0 370.0 L205.0 368.8 L205.0 367.5 L205.1 366.1 L205.1 364.8 L205.1 363.4 L205.1 362.0 L205.1 360.5 L205.1 359.1 L205.2 357.6 L205.2 356.1 L205.2 354.6 L205.2 353.0 L205.2 351.5 L205.2 349.9 L205.2 348.3 L205.3 346.8 L205.3 345.2 L205.3 343.6 L205.3 342.1 L205.3 340.5 L205.3 339.0 L205.3 337.4 L205.4 335.9 L205.4 334.4 L205.4 332.9 L205.4 331.4 L205.4 330.0 L205.4 328.5 L205.4 326.9 L205.4 325.3 L205.4 323.7 L205.4 322.1 L205.4 320.5 L205.4 318.9 L205.4 317.2 L205.4 315.6 L205.4 314.0 L205.4 312.4 L205.4 310.8 L205.4 309.2 L205.4 307.7 L205.4 306.2 L205.5 304.7 L205.5 303.3 L205.5 302.0 L205.5 300.6 L205.5 299.4 L205.5 298.2 L205.5 297.0 L205.6 296.0 L205.6 295.0 L205.7 293.3 L205.7 291.8 L205.7 290.5 L205.8 289.2 L205.9 288.1 L206.1 287.0 L206.4 285.5 L206.8 284.1 L207.4 283.0 L208.5 282.1 L210.0 281.6 L211.0 281.4 L212.1 281.3 L213.3 281.2 L214.7 281.2 L216.2 281.2 L218.0 281.2 L220.0 281.2 L220.8 281.2 L221.7 281.2 L222.6 281.2 L223.5 281.1 L224.5 281.1 L225.6 281.1 L226.7 281.1 L227.8 281.1 L229.0 281.1 L230.2 281.1 L231.5 281.1 L232.8 281.1 L234.1 281.1 L235.5 281.1 L236.9 281.1 L238.3 281.1 L239.8 281.1 L241.2 281.1 L242.8 281.1 L244.3 281.1 L245.9 281.1 L247.4 281.1 L249.0 281.1 L250.7 281.1 L252.3 281.1 L254.0 281.1 L255.6 281.1 L257.3 281.1 L259.0 281.1 L260.7 281.1 L262.4 281.1 L264.1 281.1 L265.8 281.1 L267.5 281.1 L269.3 281.1 L271.0 281.1 L272.7 281.1 L274.4 281.1 L276.1 281.1 L277.8 281.2 L279.5 281.2 L281.2 281.2 L282.9 281.2 L284.5 281.2 L286.2 281.2 L287.8 281.2 L289.4 281.2 L291.0 281.2 L292.5 281.2 L294.1 281.2 L295.6 281.2 L297.1 281.2 L298.6 281.2 L300.0 281.2 L301.6 281.2 L303.1 281.2 L304.8 281.2 L306.4 281.2 L308.1 281.2 L309.8 281.2 L311.5 281.2 L313.2 281.2 L314.9 281.2 L316.7 281.1 L318.4 281.1 L320.2 281.1 L322.0 281.1 L323.8 281.1 L325.6 281.1 L327.3 281.1 L329.1 281.1 L330.9 281.1 L332.6 281.0 L334.4 281.0 L336.1 281.0 L337.8 281.0 L339.5 281.0 L341.2 281.0 L342.9 281.0 L344.5 281.0 L346.1 281.0 L347.7 281.0 L349.2 281.0 L350.7 281.0 L352.2 281.0 L353.6 281.0 L355.0 281.0 L356.3 281.0 L357.6 281.0 L358.8 281.0 L360.0 281.0 L361.2 281.1 L362.2 281.1 L363.3 281.1 L364.2 281.1 L365.1 281.2 L365.9 281.2 L366.7 281.2 L367.4 281.3 L368.0 281.3 L369.7 281.4 L370.9 281.6 L372.0 281.9 L373.2 282.4 L374.3 283.2 L375.1 284.3 L375.8 285.7 L376.4 287.1 L376.9 288.5 L377.3 289.6 L377.6 290.6 L377.8 292.0 L377.9 292.8 L378.0 293.8 L378.0 294.9 L378.1 296.0 L378.1 297.3 L378.1 298.7 L378.1 300.1 L378.2 301.6 L378.2 303.2 L378.1 304.8 L378.1 306.5 L378.1 308.2 L378.1 309.9 L378.1 311.6 L378.1 313.3 L378.1 315.0 L378.1 316.7 L378.1 318.4 L378.1 320.0 L378.1 321.4 L378.1 322.8 L378.1 324.2 L378.2 325.6 L378.2 327.1 L378.2 328.6 L378.2 330.1 L378.2 331.6 L378.2 333.1 L378.2 334.6 L378.3 336.2 L378.3 337.7 L378.3 339.3 L378.3 340.8 L378.3 342.4 L378.3 343.9 L378.3 345.5 L378.4 347.0 L378.4 348.5 L378.4 350.0 L378.4 351.5 L378.4 353.0 L378.4 354.4 L378.5 355.9 L378.5 357.3 L378.5 358.6 L378.5 360.0 L378.5 361.6 L378.5 363.2 L378.5 364.8 L378.6 366.4 L378.6 368.0 L378.6 369.5 L378.6 371.1 L378.6 372.7 L378.6 374.2 L378.6 375.7 L378.6 377.2 L378.6 378.6 L378.7 380.0 L378.7 381.4 L378.7 382.6 L378.8 383.8 L378.8 385.0 L378.8 386.0 L378.9 387.0 L379.0 388.6 L379.0 390.1 L379.1 391.3 L379.3 392.5 L379.6 393.5 L380.2 394.7 L381.0 395.8 L382.0 396.6 L383.1 397.1 L384.3 397.4 L386.0 397.6 L386.8 397.7 L387.7 397.8 L388.7 397.8 L389.9 397.9 L391.1 397.9 L392.4 398.0 L393.7 398.0 L395.2 398.0 L396.6 398.0 L398.2 398.0 L399.8 398.0 L401.4 398.0 L403.1 398.0 L404.8 398.0 L406.5 398.0 L408.2 398.0 L409.9 398.0 L411.6 398.0 L413.4 397.9 L415.1 397.9 L416.7 397.9 L418.4 397.9 L420.0 397.9 L421.4 397.9 L422.8 397.9 L424.3 397.9 L425.8 397.9 L427.3 397.9 L428.9 397.8 L430.4 397.8 L432.0 397.8 L433.6 397.8 L435.3 397.8 L436.9 397.7 L438.5 397.7 L440.2 397.7 L441.8 397.7 L443.4 397.6 L445.0 397.6 L446.6 397.6 L448.2 397.6 L449.8 397.5 L451.4 397.5 L452.9 397.5 L454.4 397.4 L455.8 397.4 L457.3 397.4 L458.7 397.4 L460.0 397.3 L461.3 397.3 L462.6 397.3 L463.8 397.2 L464.9 397.2 L466.0 397.2 L467.7 397.2 L469.3 397.1 L470.7 397.1 L472.1 397.0 L473.3 397.0 L474.6 396.9 L475.9 396.9 L477.2 396.9 L478.5 396.8 L480.0 396.8 L481.3 396.8 L482.6 396.8 L483.9 396.8 L485.3 396.8 L486.6 396.8 L488.0 396.8 L489.4 396.8 L490.8 396.8 L492.3 396.8 L493.8 396.8 L495.3 396.8 L496.8 396.9 L498.4 396.9 L500.0 396.9 L501.3 396.9 L502.6 396.9 L504.0 397.0 L505.3 397.0 L506.8 397.0 L508.2 397.0 L509.6 397.1 L511.1 397.1 L512.6 397.1 L514.1 397.1 L515.6 397.2 L517.2 397.2 L518.7 397.2 L520.3 397.3 L521.8 397.3 L523.4 397.3 L524.9 397.4 L526.5 397.4 L528.0 397.4 L529.5 397.5 L531.1 397.5 L532.6 397.5 L534.1 397.6 L535.6 397.6" fill="none" stroke="#0000ff" stroke-width="2.1" stroke-dasharray="7.2 2.6 1.4 2.6" clip-path="url(#c3)"/>
<path d="M55.5 397.9 L57.0 397.9 L58.5 397.9 L60.0 397.9 L61.5 397.9 L63.1 397.9 L64.7 397.9 L66.2 397.9 L67.8 397.9 L69.4 397.9 L71.0 397.9 L72.6 397.9 L74.3 397.9 L75.9 397.9 L77.5 397.9 L79.2 397.9 L80.9 397.9 L82.5 397.9 L84.2 397.9 L85.9 397.9 L87.6 397.9 L89.2 397.9 L90.9 397.9 L92.6 397.9 L94.3 397.9 L96.0 397.9 L97.7 397.9 L99.4 397.9 L101.1 397.9 L102.8 397.9 L104.5 397.9 L106.3 397.9 L108.0 397.9 L109.6 397.9 L111.3 397.9 L113.0 397.9 L114.7 397.9 L116.4 397.9 L118.1 397.9 L119.8 397.9 L121.4 397.9 L123.1 397.9 L124.7 397.9 L126.4 397.9 L128.0 397.9 L129.6 398.0 L131.3 398.0 L132.9 398.0 L134.5 398.0 L136.1 398.0 L137.6 398.0 L139.2 398.0 L140.7 398.0 L142.3 398.0 L143.8 398.0 L145.3 398.0 L146.8 398.0 L148.3 398.0 L149.7 398.0 L151.2 398.0 L152.6 398.0 L154.0 398.0 L155.4 398.0 L156.7 398.0 L158.1 398.0 L159.4 398.0 L160.7 398.0 L162.0 397.9 L163.3 397.9 L164.5 397.9 L165.7 397.9 L166.9 397.9 L168.1 397.9 L169.2 397.9 L170.3 397.9 L171.4 397.9 L172.5 397.9 L173.5 397.9 L174.6 397.9 L175.5 397.9 L176.5 397.9 L177.4 397.9 L178.3 397.9 L179.2 397.9 L180.0 397.9 L181.9 397.9 L183.8 397.9 L185.5 397.9 L187.1 397.9 L188.6 397.9 L190.0 397.9 L191.4 397.9 L192.6 397.9 L193.8 397.8 L194.9 397.8 L196.0 397.8 L197.0 397.7 L198.0 397.7 L199.5 397.7 L200.8 397.6 L201.9 397.5 L203.0 397.2 L204.3 396.5 L205.5 395.6 L206.5 394.5 L207.2 393.4 L207.8 392.1 L208.3 390.6 L208.8 389.0 L209.1 387.9 L209.3 386.7 L209.5 385.4 L209.6 384.1 L209.8 382.7 L209.9 381.2 L210.0 379.7 L210.1 378.2 L210.2 376.6 L210.3 375.0 L210.4 373.7 L210.4 372.4 L210.5 371.1 L210.5 369.7 L210.6 368.2 L210.6 366.8 L210.6 365.3 L210.6 363.8 L210.7 362.3 L210.7 360.8 L210.7 359.3 L210.7 357.7 L210.7 356.2 L210.7 354.6 L210.7 353.1 L210.8 351.5 L210.8 350.0 L210.8 348.6 L210.9 347.2 L210.9 345.8 L210.9 344.4 L210.9 342.9 L211.0 341.5 L211.0 340.0 L211.0 338.5 L211.0 337.0 L211.1 335.5 L211.1 334.1 L211.1 332.6 L211.2 331.1 L211.2 329.7 L211.2 328.2 L211.2 326.8 L211.3 325.4 L211.3 324.0 L211.3 322.6 L211.4 321.3 L211.4 320.0 L211.4 318.4 L211.5 316.9 L211.5 315.3 L211.5 313.7 L211.5 312.2 L211.6 310.7 L211.6 309.2 L211.6 307.7 L211.7 306.3 L211.7 304.9 L211.8 303.6 L211.8 302.3 L211.9 301.1 L212.0 300.0 L212.1 298.4 L212.3 297.0 L212.5 295.6 L212.7 294.3 L212.9 293.1 L213.2 292.0 L213.7 290.5 L214.3 289.2 L215.0 288.0 L215.8 286.8 L216.8 285.7 L218.0 284.8 L219.0 284.3 L220.1 283.9 L221.3 283.7 L222.6 283.4 L224.0 283.2 L225.1 283.1 L226.3 282.9 L227.5 282.9 L228.8 282.8 L230.2 282.8 L231.6 282.8 L233.1 282.8 L234.7 282.7 L236.4 282.7 L238.1 282.7 L240.0 282.7 L241.0 282.7 L242.1 282.7 L243.2 282.7 L244.3 282.6 L245.5 282.6 L246.7 282.6 L248.0 282.6 L249.3 282.6 L250.6 282.6 L251.9 282.6 L253.3 282.6 L254.7 282.6 L256.1 282.6 L257.6 282.6 L259.0 282.6 L260.5 282.6 L262.0 282.6 L263.6 282.6 L265.1 282.6 L266.7 282.6 L268.2 282.6 L269.8 282.6 L271.4 282.6 L273.0 282.6 L274.6 282.6 L276.2 282.6 L277.9 282.6 L279.5 282.6 L281.1 282.6 L282.7 282.6 L284.3 282.6 L285.9 282.6 L287.6 282.6 L289.2 282.6 L290.7 282.6 L292.3 282.6 L293.9 282.6 L295.4 282.6 L297.0 282.6 L298.5 282.6 L300.0 282.6 L301.5 282.6 L303.0 282.6 L304.5 282.6 L306.1 282.6 L307.7 282.6 L309.3 282.6 L311.0 282.6 L312.7 282.6 L314.4 282.6 L316.1 282.5 L317.8 282.5 L319.5 282.5 L321.3 282.5 L323.0 282.5 L324.8 282.5 L326.5 282.5 L328.3 282.5 L330.0 282.5 L331.8 282.4 L333.5 282.4 L335.2 282.4 L336.9 282.4 L338.6 282.4 L340.3 282.4 L341.9 282.4 L343.5 282.4 L345.1 282.4 L346.7 282.4 L348.2 282.4 L349.7 282.4 L351.1 282.4 L352.5 282.4 L353.9 282.4 L355.2 282.5 L356.4 282.5 L357.6 282.5 L358.8 282.5 L359.9 282.6 L360.9 282.6 L361.8 282.6 L362.7 282.7 L363.6 282.7 L364.3 282.8 L365.0 282.8 L366.7 282.9 L367.9 283.1 L368.9 283.3 L370.0 283.6 L371.1 284.1 L372.2 284.8 L373.3 285.6 L374.3 286.4 L375.4 287.2 L376.5 288.1 L377.5 289.0 L378.5 289.9 L379.4 290.9 L380.3 292.0 L381.0 293.1 L381.7 294.2 L382.2 295.4 L382.5 296.6 L382.8 297.9 L383.1 299.1 L383.3 300.3 L383.5 301.5 L383.7 302.7 L383.8 304.0 L383.9 305.2 L384.0 306.3 L384.1 307.5 L384.1 308.9 L384.2 310.4 L384.2 311.5 L384.3 312.6 L384.3 313.8 L384.4 315.1 L384.4 316.4 L384.5 317.8 L384.5 319.3 L384.6 320.7 L384.6 322.3 L384.6 323.8 L384.7 325.3 L384.7 326.9 L384.8 328.4 L384.8 330.0 L384.8 331.3 L384.9 332.6 L384.9 334.0 L384.9 335.4 L384.9 336.9 L385.0 338.3 L385.0 339.8 L385.0 341.3 L385.0 342.8 L385.1 344.3 L385.1 345.8 L385.1 347.3 L385.1 348.8 L385.1 350.3 L385.2 351.8 L385.2 353.2 L385.2 354.6 L385.2 356.0 L385.3 357.4 L385.3 358.7 L385.3 360.0 L385.3 361.6 L385.3 363.2 L385.3 364.8 L385.3 366.4 L385.3 367.9 L385.3 369.4 L385.3 370.9 L385.3 372.3 L385.4 373.7 L385.4 375.1 L385.5 376.4 L385.6 377.6 L385.7 378.7 L385.9 380.1 L386.2 381.5 L386.4 382.7 L386.8 383.8 L387.1 384.9 L387.5 386.0 L388.0 387.2 L388.6 388.4 L389.3 389.5 L390.0 390.5 L390.8 391.5 L391.6 392.4 L392.5 393.3 L393.5 394.0 L394.5 394.6 L395.6 395.2 L396.7 395.6 L398.0 396.0 L399.1 396.3 L400.1 396.5 L401.2 396.6 L402.5 396.8 L404.1 396.9 L406.0 397.0 L406.6 397.0 L407.3 397.1 L408.0 397.1 L408.7 397.1 L409.5 397.2 L410.3 397.2 L411.1 397.2 L412.0 397.3 L412.9 397.3 L413.9 397.3 L414.9 397.3 L415.9 397.4 L416.9 397.4 L418.0 397.4 L419.1 397.4 L420.3 397.4 L421.5 397.5 L422.7 397.5 L423.9 397.5 L425.2 397.5 L426.4 397.5 L427.8 397.5 L429.1 397.5 L430.5 397.6 L431.9 397.6 L433.3 397.6 L434.7 397.6 L436.2 397.6 L437.6 397.6 L439.1 397.6 L440.7 397.6 L442.2 397.6 L443.8 397.6 L445.3 397.6 L446.9 397.6 L448.5 397.6 L450.2 397.6 L451.8 397.6 L453.4 397.6 L455.1 397.6 L456.8 397.6 L458.5 397.6 L460.2 397.6 L461.9 397.6 L463.6 397.6 L465.4 397.6 L467.1 397.6 L468.8 397.6 L470.6 397.6 L472.4 397.6 L474.1 397.6 L475.9 397.6 L477.7 397.6 L479.5 397.6 L481.3 397.6 L483.0 397.6 L484.8 397.6 L486.6 397.6 L488.4 397.6 L490.2 397.6 L492.0 397.6 L493.8 397.6 L495.5 397.6 L497.3 397.6 L499.1 397.6 L500.9 397.6 L502.6 397.6 L504.4 397.6 L506.1 397.6 L507.9 397.6 L509.6 397.6 L511.3 397.6 L513.0 397.6 L514.8 397.6 L516.4 397.6 L518.1 397.6 L519.8 397.6 L521.4 397.6 L523.1 397.6 L524.7 397.6 L526.3 397.6 L527.9 397.6 L529.5 397.6 L531.0 397.6 L532.6 397.6 L534.1 397.6 L535.6 397.6" fill="none" stroke="#ff0000" stroke-width="2.7" stroke-dasharray="6.4 2.2 2.8 2.2" clip-path="url(#c3)"/>
<path d="M55.5 398.0 L57.0 398.0 L58.5 398.0 L60.1 398.0 L61.6 398.0 L63.2 398.0 L64.8 398.0 L66.4 398.0 L68.0 398.0 L69.6 398.0 L71.3 398.0 L72.9 398.0 L74.6 398.0 L76.3 398.0 L78.0 398.0 L79.7 398.0 L81.4 398.0 L83.1 398.0 L84.9 398.0 L86.6 398.0 L88.3 398.0 L90.1 398.0 L91.8 398.0 L93.6 398.0 L95.4 398.0 L97.1 398.0 L98.9 398.0 L100.7 398.0 L102.5 398.0 L104.2 398.0 L106.0 398.0 L107.8 398.0 L109.6 398.0 L111.4 398.0 L113.1 398.1 L114.9 398.1 L116.7 398.1 L118.4 398.1 L120.2 398.1 L122.0 398.1 L123.7 398.1 L125.5 398.1 L127.2 398.1 L128.9 398.1 L130.6 398.1 L132.4 398.1 L134.1 398.1 L135.8 398.1 L137.4 398.1 L139.1 398.1 L140.8 398.1 L142.4 398.1 L144.0 398.1 L145.7 398.1 L147.3 398.1 L148.9 398.1 L150.4 398.1 L152.0 398.1 L153.5 398.1 L155.1 398.1 L156.6 398.1 L158.0 398.1 L159.5 398.1 L160.9 398.1 L162.4 398.1 L163.8 398.1 L165.2 398.1 L166.5 398.1 L167.8 398.1 L169.2 398.1 L170.4 398.1 L171.7 398.1 L172.9 398.1 L174.1 398.1 L175.3 398.1 L176.5 398.1 L177.6 398.1 L178.7 398.1 L179.8 398.1 L180.8 398.1 L181.8 398.1 L182.8 398.0 L183.7 398.0 L184.6 398.0 L185.5 398.0 L186.3 398.0 L187.1 398.0 L187.9 398.0 L188.6 398.0 L189.3 398.0 L190.0 398.0 L192.1 398.0 L193.8 398.0 L195.3 398.0 L196.6 398.0 L197.8 398.0 L198.9 397.9 L200.0 397.8 L201.6 397.5 L202.9 397.1 L204.0 396.5 L204.8 395.6 L205.5 394.4 L206.0 393.0 L206.3 391.9 L206.5 390.8 L206.7 389.5 L206.8 388.1 L206.9 386.6 L207.0 385.0 L207.1 383.9 L207.1 382.7 L207.2 381.5 L207.2 380.1 L207.3 378.7 L207.3 377.3 L207.4 375.8 L207.4 374.3 L207.4 372.7 L207.4 371.2 L207.5 369.6 L207.5 367.9 L207.5 366.3 L207.5 364.7 L207.5 363.1 L207.6 361.6 L207.6 360.0 L207.6 358.6 L207.7 357.2 L207.7 355.8 L207.7 354.4 L207.7 353.0 L207.8 351.5 L207.8 350.1 L207.8 348.6 L207.9 347.2 L207.9 345.7 L207.9 344.3 L207.9 342.8 L208.0 341.4 L208.0 339.9 L208.0 338.5 L208.1 337.0 L208.1 335.6 L208.1 334.2 L208.1 332.8 L208.2 331.4 L208.2 330.0 L208.2 328.5 L208.3 326.9 L208.3 325.3 L208.3 323.7 L208.3 322.1 L208.4 320.6 L208.4 319.0 L208.4 317.4 L208.5 315.9 L208.5 314.4 L208.5 312.9 L208.6 311.5 L208.6 310.1 L208.6 308.7 L208.7 307.4 L208.7 306.2 L208.8 305.0 L208.9 303.3 L209.0 301.7 L209.1 300.2 L209.1 298.8 L209.3 297.5 L209.4 296.2 L209.6 295.0 L209.9 293.6 L210.2 292.3 L210.5 291.1 L211.0 290.0 L211.7 288.7 L212.5 287.5 L213.5 286.5 L214.5 285.7 L215.5 285.1 L216.7 284.5 L218.0 284.0 L219.2 283.7 L220.5 283.4 L221.9 283.3 L223.4 283.1 L225.0 283.0 L226.1 282.9 L227.2 282.9 L228.4 282.8 L229.6 282.8 L230.9 282.8 L232.2 282.7 L233.6 282.7 L235.0 282.7 L236.6 282.7 L238.2 282.7 L240.0 282.7 L241.0 282.7 L242.1 282.7 L243.1 282.7 L244.3 282.7 L245.5 282.7 L246.7 282.7 L248.0 282.6 L249.3 282.6 L250.6 282.6 L252.0 282.6 L253.4 282.6 L254.8 282.6 L256.3 282.6 L257.7 282.6 L259.2 282.6 L260.8 282.6 L262.3 282.6 L263.9 282.6 L265.5 282.6 L267.0 282.6 L268.6 282.6 L270.3 282.6 L271.9 282.6 L273.5 282.6 L275.1 282.6 L276.8 282.6 L278.4 282.6 L280.0 282.6 L281.6 282.6 L283.2 282.6 L284.8 282.6 L286.4 282.6 L288.0 282.6 L289.6 282.6 L291.1 282.6 L292.7 282.7 L294.2 282.7 L295.7 282.7 L297.1 282.7 L298.6 282.7 L300.0 282.7 L301.6 282.7 L303.1 282.7 L304.8 282.7 L306.4 282.7 L308.1 282.7 L309.8 282.7 L311.5 282.8 L313.2 282.8 L314.9 282.8 L316.6 282.8 L318.4 282.8 L320.1 282.8 L321.8 282.8 L323.5 282.8 L325.2 282.8 L326.9 282.8 L328.5 282.8 L330.2 282.8 L331.8 282.9 L333.3 282.9 L334.9 282.9 L336.4 282.9 L337.8 282.9 L339.2 283.0 L340.6 283.0 L341.9 283.0 L343.2 283.1 L344.3 283.1 L345.5 283.1 L346.5 283.2 L347.5 283.2 L348.4 283.3 L349.3 283.3 L350.0 283.4 L351.7 283.6 L352.9 283.7 L354.0 283.9 L355.0 284.2 L356.0 284.5 L357.0 284.9 L358.0 285.3 L359.0 285.7 L360.2 286.1 L361.4 286.6 L362.6 287.1 L363.7 287.8 L364.8 288.6 L365.8 289.5 L366.8 290.6 L367.7 291.6 L368.6 292.7 L369.4 293.8 L370.1 294.9 L370.7 296.1 L371.3 297.2 L371.8 298.4 L372.3 299.8 L372.8 301.2 L373.2 302.6 L373.6 304.0 L373.9 305.2 L374.2 306.4 L374.5 307.6 L374.7 308.9 L375.0 310.4 L375.2 311.6 L375.3 312.9 L375.5 314.3 L375.6 315.8 L375.8 317.3 L375.9 318.9 L376.1 320.4 L376.2 322.0 L376.3 323.5 L376.5 325.0 L376.7 326.3 L376.8 327.7 L377.0 329.0 L377.1 330.3 L377.3 331.7 L377.5 333.0 L377.7 334.3 L377.8 335.7 L378.0 337.1 L378.1 338.5 L378.3 340.0 L378.4 341.3 L378.5 342.7 L378.7 344.2 L378.8 345.7 L378.9 347.2 L379.0 348.7 L379.1 350.2 L379.2 351.8 L379.3 353.3 L379.4 354.8 L379.5 356.2 L379.6 357.6 L379.7 359.0 L379.9 360.3 L380.0 361.5 L380.2 363.0 L380.4 364.4 L380.6 365.8 L380.9 367.0 L381.1 368.3 L381.3 369.5 L381.6 370.8 L381.8 372.0 L382.0 373.3 L382.2 374.7 L382.4 376.0 L382.6 377.3 L382.8 378.6 L383.1 379.8 L383.4 381.0 L383.8 382.3 L384.3 383.5 L384.8 384.7 L385.3 385.9 L385.9 387.0 L386.5 388.0 L387.3 389.3 L388.1 390.5 L389.0 391.5 L390.0 392.5 L391.1 393.3 L392.4 394.0 L393.7 394.5 L395.0 395.0 L396.2 395.4 L397.4 395.6 L398.6 395.8 L400.0 396.0 L401.1 396.1 L402.3 396.2 L403.5 396.3 L404.7 396.3 L406.2 396.3 L408.0 396.4 L410.0 396.4 L410.7 396.4 L411.4 396.4 L412.2 396.4 L412.9 396.4 L413.8 396.5 L414.6 396.5 L415.5 396.5 L416.5 396.5 L417.5 396.5 L418.5 396.5 L419.5 396.5 L420.6 396.5 L421.7 396.5 L422.8 396.5 L424.0 396.5 L425.1 396.5 L426.4 396.5 L427.6 396.5 L428.9 396.5 L430.2 396.5 L431.5 396.5 L432.9 396.5 L434.2 396.5 L435.6 396.5 L437.1 396.5 L438.5 396.5 L440.0 396.5 L441.4 396.5 L443.0 396.5 L444.5 396.5 L446.0 396.5 L447.6 396.5 L449.2 396.5 L450.8 396.5 L452.4 396.5 L454.0 396.5 L455.6 396.5 L457.3 396.5 L458.9 396.5 L460.6 396.5 L462.3 396.5 L464.0 396.5 L465.7 396.5 L467.4 396.5 L469.2 396.5 L470.9 396.5 L472.6 396.5 L474.4 396.5 L476.1 396.5 L477.9 396.5 L479.7 396.5 L481.4 396.4 L483.2 396.4 L485.0 396.4 L486.8 396.4 L488.5 396.4 L490.3 396.4 L492.1 396.4 L493.8 396.4 L495.6 396.4 L497.4 396.4 L499.1 396.4 L500.9 396.4 L502.7 396.4 L504.4 396.4 L506.1 396.4 L507.9 396.4 L509.6 396.4 L511.3 396.3 L513.0 396.3 L514.7 396.3 L516.4 396.3 L518.1 396.3 L519.8 396.3 L521.4 396.3 L523.1 396.3 L524.7 396.3 L526.3 396.3 L527.9 396.3 L529.5 396.3 L531.0 396.3 L532.6 396.3 L534.1 396.3 L535.6 396.3" fill="none" stroke="#00ff00" stroke-width="2.1" stroke-dasharray="8.2 5.4" clip-path="url(#c3)"/>

<text x="55.5" y="422.8" class="tk" text-anchor="middle">0</text>
<text x="124.0" y="422.8" class="tk" text-anchor="middle">2</text>
<text x="192.5" y="422.8" class="tk" text-anchor="middle">4</text>
<text x="261.0" y="422.8" class="tk" text-anchor="middle">6</text>
<text x="329.5" y="422.8" class="tk" text-anchor="middle">8</text>
<text x="398.0" y="422.8" class="tk" text-anchor="middle">10</text>
<text x="466.5" y="422.8" class="tk" text-anchor="middle">12</text>
<text x="535.0" y="422.8" class="tk" text-anchor="middle">14</text>
<text x="294.8" y="446.0" class="xl" text-anchor="middle">Time(s)</text>
<text transform="translate(28.0 84.7) rotate(-90)" class="yl" text-anchor="middle" textLength="53.6" lengthAdjust="spacing"><tspan class="gd">ϕ</tspan><tspan class="up">(</tspan><tspan class="it">rad</tspan><tspan class="up">)</tspan></text>
<text transform="translate(23.0 212.2) rotate(-90)" class="yl" text-anchor="middle" textLength="51.8" lengthAdjust="spacing"><tspan class="gi">θ</tspan><tspan class="up">(</tspan><tspan class="it">rad</tspan><tspan class="up">)</tspan></text>
<text transform="translate(28.0 341.3) rotate(-90)" class="yl" text-anchor="middle" textLength="56.1" lengthAdjust="spacing"><tspan class="gi">ψ</tspan><tspan class="up">(</tspan><tspan class="it">rad</tspan><tspan class="up">)</tspan></text>
<rect x="62" y="0" width="461.4" height="27.6" fill="#fff"/>
<path d="M62 7.9 V27.6 H523.4 V7.9" fill="none" stroke="#484848" stroke-width="1.1"/>
<line x1="66.3" y1="16.7" x2="109.2" y2="16.7" stroke="#000" stroke-width="1.7"/>
<line x1="183.1" y1="16.7" x2="226" y2="16.7" stroke="#0000ff" stroke-width="2.1" stroke-dasharray="7.4 2.6 1.4 2.6"/>
<line x1="328.9" y1="16.7" x2="372" y2="16.7" stroke="#ff0000" stroke-width="3" stroke-dasharray="6.8 1.9 3.0 1.9"/>
<line x1="445.2" y1="16.7" x2="488.2" y2="16.7" stroke="#00ff00" stroke-width="2.1" stroke-dasharray="7.6 6.2"/>
<text x="112.6" y="22.8" class="lg">Reference</text>
<text x="229.3" y="22.8" class="lg">SuperTwisting</text>
<text x="374.2" y="22.8" class="lg">INDI_OB</text>
<text x="491.0" y="22.8" class="lg">NDI</text>
<line x1="231.2" y1="127.0" x2="172.3" y2="137.1" stroke="#000" stroke-width="1.1"/>
<path d="M161.5 139.0 L174.9 131.2 L172.2 137.2 L176.7 141.9 Z" fill="#000"/>

<text x="237" y="133.3" class="an">Wind Gust</text>
<line x1="192.5" y1="225.8" x2="165.0" y2="195.7" stroke="#000" stroke-width="1.1"/>
<path d="M157.6 187.6 L171.4 194.7 L165.0 195.6 L163.4 201.9 Z" fill="#000"/>

<text x="199.7" y="240.8" class="an">Wind Gust</text>
<line x1="135.4" y1="353.2" x2="154.8" y2="386.0" stroke="#000" stroke-width="1.1"/>
<path d="M160.4 395.5 L148.4 385.8 L154.9 386.1 L157.7 380.3 Z" fill="#000"/>

<text x="105.9" y="349.7" class="an">Wind Gust</text>
</svg>
</body></html>
